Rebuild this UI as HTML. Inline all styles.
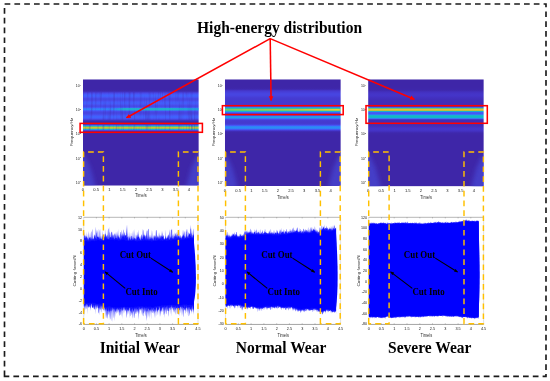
<!DOCTYPE html>
<html><head><meta charset="utf-8"><title>Wear stages</title>
<style>html,body{margin:0;padding:0;background:#fff;}body{width:550px;height:381px;overflow:hidden;font-family:"Liberation Serif",serif;}svg{display:block;}</style>
</head><body>
<svg width="550" height="381" viewBox="0 0 550 381">
<defs>
<linearGradient id="sg0" x1="0" y1="0" x2="0" y2="1">
<stop offset="0.0000" stop-color="#3e26a8"/>
<stop offset="0.0047" stop-color="#3e26a8"/>
<stop offset="0.0093" stop-color="#3e26a8"/>
<stop offset="0.0140" stop-color="#3e26a8"/>
<stop offset="0.0187" stop-color="#3e26a8"/>
<stop offset="0.0234" stop-color="#3e26a8"/>
<stop offset="0.0280" stop-color="#3e26a8"/>
<stop offset="0.0327" stop-color="#3e26a8"/>
<stop offset="0.0374" stop-color="#3e26a8"/>
<stop offset="0.0421" stop-color="#3e26a8"/>
<stop offset="0.0467" stop-color="#3e26a8"/>
<stop offset="0.0514" stop-color="#3e26a8"/>
<stop offset="0.0561" stop-color="#3e26a8"/>
<stop offset="0.0607" stop-color="#3e26a8"/>
<stop offset="0.0654" stop-color="#3e26a8"/>
<stop offset="0.0701" stop-color="#3e26a8"/>
<stop offset="0.0748" stop-color="#3e26a8"/>
<stop offset="0.0794" stop-color="#3e26a8"/>
<stop offset="0.0841" stop-color="#3e26a8"/>
<stop offset="0.0888" stop-color="#3e26a8"/>
<stop offset="0.0935" stop-color="#3e26a9"/>
<stop offset="0.0981" stop-color="#3e27a9"/>
<stop offset="0.1028" stop-color="#3e27aa"/>
<stop offset="0.1075" stop-color="#3f29ae"/>
<stop offset="0.1121" stop-color="#402cb5"/>
<stop offset="0.1168" stop-color="#4331c2"/>
<stop offset="0.1215" stop-color="#453bd1"/>
<stop offset="0.1262" stop-color="#4743df"/>
<stop offset="0.1308" stop-color="#474be9"/>
<stop offset="0.1355" stop-color="#4851f3"/>
<stop offset="0.1402" stop-color="#4557f7"/>
<stop offset="0.1449" stop-color="#425dfa"/>
<stop offset="0.1495" stop-color="#4060fc"/>
<stop offset="0.1542" stop-color="#4061fc"/>
<stop offset="0.1589" stop-color="#415ffb"/>
<stop offset="0.1636" stop-color="#435bf9"/>
<stop offset="0.1682" stop-color="#4656f6"/>
<stop offset="0.1729" stop-color="#4850f1"/>
<stop offset="0.1776" stop-color="#474ceb"/>
<stop offset="0.1822" stop-color="#4749e7"/>
<stop offset="0.1869" stop-color="#4748e6"/>
<stop offset="0.1916" stop-color="#4749e6"/>
<stop offset="0.1963" stop-color="#474be9"/>
<stop offset="0.2009" stop-color="#474eee"/>
<stop offset="0.2056" stop-color="#4753f5"/>
<stop offset="0.2103" stop-color="#4558f7"/>
<stop offset="0.2150" stop-color="#435cf9"/>
<stop offset="0.2196" stop-color="#415efb"/>
<stop offset="0.2243" stop-color="#425efa"/>
<stop offset="0.2290" stop-color="#435bf9"/>
<stop offset="0.2336" stop-color="#4557f7"/>
<stop offset="0.2383" stop-color="#4852f4"/>
<stop offset="0.2430" stop-color="#474eed"/>
<stop offset="0.2477" stop-color="#474be9"/>
<stop offset="0.2523" stop-color="#474ae8"/>
<stop offset="0.2570" stop-color="#474cec"/>
<stop offset="0.2617" stop-color="#4753f5"/>
<stop offset="0.2664" stop-color="#425efa"/>
<stop offset="0.2710" stop-color="#3970fb"/>
<stop offset="0.2757" stop-color="#3082f8"/>
<stop offset="0.2804" stop-color="#2d87f7"/>
<stop offset="0.2850" stop-color="#337cf9"/>
<stop offset="0.2897" stop-color="#3d66fd"/>
<stop offset="0.2944" stop-color="#4459f8"/>
<stop offset="0.2991" stop-color="#474fef"/>
<stop offset="0.3037" stop-color="#4749e7"/>
<stop offset="0.3084" stop-color="#4746e3"/>
<stop offset="0.3131" stop-color="#4746e2"/>
<stop offset="0.3178" stop-color="#4746e3"/>
<stop offset="0.3224" stop-color="#4748e6"/>
<stop offset="0.3271" stop-color="#474cea"/>
<stop offset="0.3318" stop-color="#4850f1"/>
<stop offset="0.3364" stop-color="#4656f6"/>
<stop offset="0.3411" stop-color="#435cf9"/>
<stop offset="0.3458" stop-color="#4061fc"/>
<stop offset="0.3505" stop-color="#3f63fd"/>
<stop offset="0.3551" stop-color="#3f63fd"/>
<stop offset="0.3598" stop-color="#4160fb"/>
<stop offset="0.3645" stop-color="#4459f8"/>
<stop offset="0.3692" stop-color="#4851f3"/>
<stop offset="0.3738" stop-color="#4748e5"/>
<stop offset="0.3785" stop-color="#463cd4"/>
<stop offset="0.3832" stop-color="#4332c3"/>
<stop offset="0.3879" stop-color="#402cb5"/>
<stop offset="0.3925" stop-color="#3f29ae"/>
<stop offset="0.3972" stop-color="#3e27aa"/>
<stop offset="0.4019" stop-color="#3e27a9"/>
<stop offset="0.4065" stop-color="#3e27a9"/>
<stop offset="0.4112" stop-color="#3e27aa"/>
<stop offset="0.4159" stop-color="#3f29ae"/>
<stop offset="0.4206" stop-color="#422ebb"/>
<stop offset="0.4252" stop-color="#463ed7"/>
<stop offset="0.4299" stop-color="#4060fc"/>
<stop offset="0.4346" stop-color="#229fe5"/>
<stop offset="0.4393" stop-color="#1dc1af"/>
<stop offset="0.4439" stop-color="#80ca5b"/>
<stop offset="0.4486" stop-color="#cac133"/>
<stop offset="0.4533" stop-color="#d3bf31"/>
<stop offset="0.4579" stop-color="#bac436"/>
<stop offset="0.4626" stop-color="#4fcb82"/>
<stop offset="0.4673" stop-color="#12b4d1"/>
<stop offset="0.4720" stop-color="#2c8cf3"/>
<stop offset="0.4766" stop-color="#4850f1"/>
<stop offset="0.4813" stop-color="#4436ca"/>
<stop offset="0.4860" stop-color="#402bb4"/>
<stop offset="0.4907" stop-color="#3e28ac"/>
<stop offset="0.4953" stop-color="#3e27a9"/>
<stop offset="0.5000" stop-color="#3e26a8"/>
<stop offset="0.5047" stop-color="#3e26a8"/>
<stop offset="0.5093" stop-color="#3e26a8"/>
<stop offset="0.5140" stop-color="#3e26a8"/>
<stop offset="0.5187" stop-color="#3e26a8"/>
<stop offset="0.5234" stop-color="#3e26a8"/>
<stop offset="0.5280" stop-color="#3e26a8"/>
<stop offset="0.5327" stop-color="#3e26a8"/>
<stop offset="0.5374" stop-color="#3e26a8"/>
<stop offset="0.5421" stop-color="#3e26a8"/>
<stop offset="0.5467" stop-color="#3e26a8"/>
<stop offset="0.5514" stop-color="#3e26a8"/>
<stop offset="0.5561" stop-color="#3e26a8"/>
<stop offset="0.5607" stop-color="#3e26a8"/>
<stop offset="0.5654" stop-color="#3e26a8"/>
<stop offset="0.5701" stop-color="#3e26a8"/>
<stop offset="0.5748" stop-color="#3e26a8"/>
<stop offset="0.5794" stop-color="#3e26a8"/>
<stop offset="0.5841" stop-color="#3e26a8"/>
<stop offset="0.5888" stop-color="#3e26a8"/>
<stop offset="0.5935" stop-color="#3e26a8"/>
<stop offset="0.5981" stop-color="#3e26a8"/>
<stop offset="0.6028" stop-color="#3e26a8"/>
<stop offset="0.6075" stop-color="#3e26a8"/>
<stop offset="0.6121" stop-color="#3e26a8"/>
<stop offset="0.6168" stop-color="#3e26a8"/>
<stop offset="0.6215" stop-color="#3e26a8"/>
<stop offset="0.6262" stop-color="#3e26a8"/>
<stop offset="0.6308" stop-color="#3e26a8"/>
<stop offset="0.6355" stop-color="#3e26a8"/>
<stop offset="0.6402" stop-color="#3e26a8"/>
<stop offset="0.6449" stop-color="#3e26a8"/>
<stop offset="0.6495" stop-color="#3e26a8"/>
<stop offset="0.6542" stop-color="#3e26a8"/>
<stop offset="0.6589" stop-color="#3e26a8"/>
<stop offset="0.6636" stop-color="#3e26a8"/>
<stop offset="0.6682" stop-color="#3e26a8"/>
<stop offset="0.6729" stop-color="#3e26a8"/>
<stop offset="0.6776" stop-color="#3e26a8"/>
<stop offset="0.6822" stop-color="#3e26a8"/>
<stop offset="0.6869" stop-color="#3e26a8"/>
<stop offset="0.6916" stop-color="#3e26a8"/>
<stop offset="0.6963" stop-color="#3e26a8"/>
<stop offset="0.7009" stop-color="#3e26a8"/>
<stop offset="0.7056" stop-color="#3e26a8"/>
<stop offset="0.7103" stop-color="#3e26a8"/>
<stop offset="0.7150" stop-color="#3e26a8"/>
<stop offset="0.7196" stop-color="#3e26a8"/>
<stop offset="0.7243" stop-color="#3e26a8"/>
<stop offset="0.7290" stop-color="#3e26a8"/>
<stop offset="0.7336" stop-color="#3e26a8"/>
<stop offset="0.7383" stop-color="#3e26a8"/>
<stop offset="0.7430" stop-color="#3e26a8"/>
<stop offset="0.7477" stop-color="#3e26a8"/>
<stop offset="0.7523" stop-color="#3e26a8"/>
<stop offset="0.7570" stop-color="#3e26a8"/>
<stop offset="0.7617" stop-color="#3e26a8"/>
<stop offset="0.7664" stop-color="#3e26a8"/>
<stop offset="0.7710" stop-color="#3e26a8"/>
<stop offset="0.7757" stop-color="#3e26a8"/>
<stop offset="0.7804" stop-color="#3e26a8"/>
<stop offset="0.7850" stop-color="#3e26a8"/>
<stop offset="0.7897" stop-color="#3e26a8"/>
<stop offset="0.7944" stop-color="#3e26a8"/>
<stop offset="0.7991" stop-color="#3e26a8"/>
<stop offset="0.8037" stop-color="#3e26a8"/>
<stop offset="0.8084" stop-color="#3e26a8"/>
<stop offset="0.8131" stop-color="#3e26a8"/>
<stop offset="0.8178" stop-color="#3e26a8"/>
<stop offset="0.8224" stop-color="#3e26a8"/>
<stop offset="0.8271" stop-color="#3e26a8"/>
<stop offset="0.8318" stop-color="#3e26a8"/>
<stop offset="0.8364" stop-color="#3e26a8"/>
<stop offset="0.8411" stop-color="#3e26a8"/>
<stop offset="0.8458" stop-color="#3e26a8"/>
<stop offset="0.8505" stop-color="#3e26a8"/>
<stop offset="0.8551" stop-color="#3e26a8"/>
<stop offset="0.8598" stop-color="#3e26a8"/>
<stop offset="0.8645" stop-color="#3e26a8"/>
<stop offset="0.8692" stop-color="#3e26a8"/>
<stop offset="0.8738" stop-color="#3e26a8"/>
<stop offset="0.8785" stop-color="#3e26a8"/>
<stop offset="0.8832" stop-color="#3e26a8"/>
<stop offset="0.8879" stop-color="#3e26a8"/>
<stop offset="0.8925" stop-color="#3e26a8"/>
<stop offset="0.8972" stop-color="#3e26a8"/>
<stop offset="0.9019" stop-color="#3e26a8"/>
<stop offset="0.9065" stop-color="#3e26a8"/>
<stop offset="0.9112" stop-color="#3e26a8"/>
<stop offset="0.9159" stop-color="#3e26a8"/>
<stop offset="0.9206" stop-color="#3e26a8"/>
<stop offset="0.9252" stop-color="#3e26a8"/>
<stop offset="0.9299" stop-color="#3e26a8"/>
<stop offset="0.9346" stop-color="#3e26a8"/>
<stop offset="0.9393" stop-color="#3e26a8"/>
<stop offset="0.9439" stop-color="#3e26a8"/>
<stop offset="0.9486" stop-color="#3e26a8"/>
<stop offset="0.9533" stop-color="#3e26a8"/>
<stop offset="0.9579" stop-color="#3e26a8"/>
<stop offset="0.9626" stop-color="#3e26a8"/>
<stop offset="0.9673" stop-color="#3e26a8"/>
<stop offset="0.9720" stop-color="#3e26a8"/>
<stop offset="0.9766" stop-color="#3e26a8"/>
<stop offset="0.9813" stop-color="#3e26a8"/>
<stop offset="0.9860" stop-color="#3e26a8"/>
<stop offset="0.9907" stop-color="#3e26a8"/>
<stop offset="0.9953" stop-color="#3e26a8"/>
<stop offset="1.0000" stop-color="#3e26a8"/>
</linearGradient>
<linearGradient id="sg1" x1="0" y1="0" x2="0" y2="1">
<stop offset="0.0000" stop-color="#3e26a8"/>
<stop offset="0.0047" stop-color="#3e26a8"/>
<stop offset="0.0093" stop-color="#3e26a8"/>
<stop offset="0.0140" stop-color="#3e26a8"/>
<stop offset="0.0187" stop-color="#3e26a8"/>
<stop offset="0.0234" stop-color="#3e26a8"/>
<stop offset="0.0280" stop-color="#3e26a8"/>
<stop offset="0.0327" stop-color="#3e26a8"/>
<stop offset="0.0374" stop-color="#3e26a8"/>
<stop offset="0.0421" stop-color="#3e26a8"/>
<stop offset="0.0467" stop-color="#3e26a8"/>
<stop offset="0.0514" stop-color="#3e26a8"/>
<stop offset="0.0561" stop-color="#3e26a8"/>
<stop offset="0.0607" stop-color="#3e26a8"/>
<stop offset="0.0654" stop-color="#3e26a8"/>
<stop offset="0.0701" stop-color="#3e26a8"/>
<stop offset="0.0748" stop-color="#3e26a9"/>
<stop offset="0.0794" stop-color="#3e27a9"/>
<stop offset="0.0841" stop-color="#3e27aa"/>
<stop offset="0.0888" stop-color="#3f28ac"/>
<stop offset="0.0935" stop-color="#402ab1"/>
<stop offset="0.0981" stop-color="#412eba"/>
<stop offset="0.1028" stop-color="#4433c5"/>
<stop offset="0.1075" stop-color="#4538cd"/>
<stop offset="0.1121" stop-color="#463bd2"/>
<stop offset="0.1168" stop-color="#463dd6"/>
<stop offset="0.1215" stop-color="#473fd9"/>
<stop offset="0.1262" stop-color="#4741dc"/>
<stop offset="0.1308" stop-color="#4743de"/>
<stop offset="0.1355" stop-color="#4745e0"/>
<stop offset="0.1402" stop-color="#4745e1"/>
<stop offset="0.1449" stop-color="#4745e1"/>
<stop offset="0.1495" stop-color="#4744e0"/>
<stop offset="0.1542" stop-color="#4743de"/>
<stop offset="0.1589" stop-color="#4741db"/>
<stop offset="0.1636" stop-color="#473fd9"/>
<stop offset="0.1682" stop-color="#463ed6"/>
<stop offset="0.1729" stop-color="#463cd4"/>
<stop offset="0.1776" stop-color="#463bd2"/>
<stop offset="0.1822" stop-color="#453bd1"/>
<stop offset="0.1869" stop-color="#453ad0"/>
<stop offset="0.1916" stop-color="#453ad0"/>
<stop offset="0.1963" stop-color="#453ad0"/>
<stop offset="0.2009" stop-color="#4539cf"/>
<stop offset="0.2056" stop-color="#4539cf"/>
<stop offset="0.2103" stop-color="#4539cf"/>
<stop offset="0.2150" stop-color="#4539cf"/>
<stop offset="0.2196" stop-color="#4539cf"/>
<stop offset="0.2243" stop-color="#4539cf"/>
<stop offset="0.2290" stop-color="#4539cf"/>
<stop offset="0.2336" stop-color="#4539cf"/>
<stop offset="0.2383" stop-color="#453ad0"/>
<stop offset="0.2430" stop-color="#463bd2"/>
<stop offset="0.2477" stop-color="#463ed7"/>
<stop offset="0.2523" stop-color="#4747e4"/>
<stop offset="0.2570" stop-color="#4458f8"/>
<stop offset="0.2617" stop-color="#2f84f8"/>
<stop offset="0.2664" stop-color="#1da8e0"/>
<stop offset="0.2710" stop-color="#12bdbc"/>
<stop offset="0.2757" stop-color="#46ca8a"/>
<stop offset="0.2804" stop-color="#6ecb69"/>
<stop offset="0.2850" stop-color="#79ca60"/>
<stop offset="0.2897" stop-color="#5bcd79"/>
<stop offset="0.2944" stop-color="#33c79a"/>
<stop offset="0.2991" stop-color="#12b3d3"/>
<stop offset="0.3037" stop-color="#2798ea"/>
<stop offset="0.3084" stop-color="#3b6cfc"/>
<stop offset="0.3131" stop-color="#4850f1"/>
<stop offset="0.3178" stop-color="#4743de"/>
<stop offset="0.3224" stop-color="#463ed6"/>
<stop offset="0.3271" stop-color="#463ed6"/>
<stop offset="0.3318" stop-color="#4743de"/>
<stop offset="0.3364" stop-color="#474eef"/>
<stop offset="0.3411" stop-color="#4061fc"/>
<stop offset="0.3458" stop-color="#2d88f6"/>
<stop offset="0.3505" stop-color="#259ae9"/>
<stop offset="0.3551" stop-color="#20a2e4"/>
<stop offset="0.3598" stop-color="#259ae9"/>
<stop offset="0.3645" stop-color="#2d88f6"/>
<stop offset="0.3692" stop-color="#4061fc"/>
<stop offset="0.3738" stop-color="#474eef"/>
<stop offset="0.3785" stop-color="#4742dd"/>
<stop offset="0.3832" stop-color="#463dd5"/>
<stop offset="0.3879" stop-color="#453ad1"/>
<stop offset="0.3925" stop-color="#453ad0"/>
<stop offset="0.3972" stop-color="#4539cf"/>
<stop offset="0.4019" stop-color="#4539cf"/>
<stop offset="0.4065" stop-color="#4539cf"/>
<stop offset="0.4112" stop-color="#453ad0"/>
<stop offset="0.4159" stop-color="#463bd2"/>
<stop offset="0.4206" stop-color="#463fd8"/>
<stop offset="0.4252" stop-color="#4746e3"/>
<stop offset="0.4299" stop-color="#4852f4"/>
<stop offset="0.4346" stop-color="#3f62fc"/>
<stop offset="0.4393" stop-color="#337bf9"/>
<stop offset="0.4439" stop-color="#2c8af5"/>
<stop offset="0.4486" stop-color="#2b8df2"/>
<stop offset="0.4533" stop-color="#2b8df2"/>
<stop offset="0.4579" stop-color="#2d89f6"/>
<stop offset="0.4626" stop-color="#3676fa"/>
<stop offset="0.4673" stop-color="#425efa"/>
<stop offset="0.4720" stop-color="#474ded"/>
<stop offset="0.4766" stop-color="#473fd9"/>
<stop offset="0.4813" stop-color="#4434c8"/>
<stop offset="0.4860" stop-color="#412db9"/>
<stop offset="0.4907" stop-color="#3f29b0"/>
<stop offset="0.4953" stop-color="#3e28ab"/>
<stop offset="0.5000" stop-color="#3e27a9"/>
<stop offset="0.5047" stop-color="#3e27a9"/>
<stop offset="0.5093" stop-color="#3e26a9"/>
<stop offset="0.5140" stop-color="#3e26a8"/>
<stop offset="0.5187" stop-color="#3e26a8"/>
<stop offset="0.5234" stop-color="#3e26a8"/>
<stop offset="0.5280" stop-color="#3e26a8"/>
<stop offset="0.5327" stop-color="#3e26a8"/>
<stop offset="0.5374" stop-color="#3e26a8"/>
<stop offset="0.5421" stop-color="#3e26a8"/>
<stop offset="0.5467" stop-color="#3e26a8"/>
<stop offset="0.5514" stop-color="#3e26a8"/>
<stop offset="0.5561" stop-color="#3e26a8"/>
<stop offset="0.5607" stop-color="#3e26a8"/>
<stop offset="0.5654" stop-color="#3e26a8"/>
<stop offset="0.5701" stop-color="#3e26a8"/>
<stop offset="0.5748" stop-color="#3e26a8"/>
<stop offset="0.5794" stop-color="#3e26a8"/>
<stop offset="0.5841" stop-color="#3e26a8"/>
<stop offset="0.5888" stop-color="#3e26a8"/>
<stop offset="0.5935" stop-color="#3e26a8"/>
<stop offset="0.5981" stop-color="#3e26a8"/>
<stop offset="0.6028" stop-color="#3e26a8"/>
<stop offset="0.6075" stop-color="#3e26a8"/>
<stop offset="0.6121" stop-color="#3e26a8"/>
<stop offset="0.6168" stop-color="#3e26a8"/>
<stop offset="0.6215" stop-color="#3e26a8"/>
<stop offset="0.6262" stop-color="#3e26a8"/>
<stop offset="0.6308" stop-color="#3e26a8"/>
<stop offset="0.6355" stop-color="#3e26a8"/>
<stop offset="0.6402" stop-color="#3e26a8"/>
<stop offset="0.6449" stop-color="#3e26a8"/>
<stop offset="0.6495" stop-color="#3e26a8"/>
<stop offset="0.6542" stop-color="#3e26a8"/>
<stop offset="0.6589" stop-color="#3e26a8"/>
<stop offset="0.6636" stop-color="#3e26a8"/>
<stop offset="0.6682" stop-color="#3e26a8"/>
<stop offset="0.6729" stop-color="#3e26a8"/>
<stop offset="0.6776" stop-color="#3e26a8"/>
<stop offset="0.6822" stop-color="#3e26a8"/>
<stop offset="0.6869" stop-color="#3e26a8"/>
<stop offset="0.6916" stop-color="#3e26a8"/>
<stop offset="0.6963" stop-color="#3e26a8"/>
<stop offset="0.7009" stop-color="#3e26a8"/>
<stop offset="0.7056" stop-color="#3e26a8"/>
<stop offset="0.7103" stop-color="#3e26a8"/>
<stop offset="0.7150" stop-color="#3e26a8"/>
<stop offset="0.7196" stop-color="#3e26a8"/>
<stop offset="0.7243" stop-color="#3e26a8"/>
<stop offset="0.7290" stop-color="#3e26a8"/>
<stop offset="0.7336" stop-color="#3e26a8"/>
<stop offset="0.7383" stop-color="#3e26a8"/>
<stop offset="0.7430" stop-color="#3e26a8"/>
<stop offset="0.7477" stop-color="#3e26a8"/>
<stop offset="0.7523" stop-color="#3e26a8"/>
<stop offset="0.7570" stop-color="#3e26a8"/>
<stop offset="0.7617" stop-color="#3e26a8"/>
<stop offset="0.7664" stop-color="#3e26a8"/>
<stop offset="0.7710" stop-color="#3e26a8"/>
<stop offset="0.7757" stop-color="#3e26a8"/>
<stop offset="0.7804" stop-color="#3e26a8"/>
<stop offset="0.7850" stop-color="#3e26a8"/>
<stop offset="0.7897" stop-color="#3e26a8"/>
<stop offset="0.7944" stop-color="#3e26a8"/>
<stop offset="0.7991" stop-color="#3e26a8"/>
<stop offset="0.8037" stop-color="#3e26a8"/>
<stop offset="0.8084" stop-color="#3e26a8"/>
<stop offset="0.8131" stop-color="#3e26a8"/>
<stop offset="0.8178" stop-color="#3e26a8"/>
<stop offset="0.8224" stop-color="#3e26a8"/>
<stop offset="0.8271" stop-color="#3e26a8"/>
<stop offset="0.8318" stop-color="#3e26a8"/>
<stop offset="0.8364" stop-color="#3e26a8"/>
<stop offset="0.8411" stop-color="#3e26a8"/>
<stop offset="0.8458" stop-color="#3e26a8"/>
<stop offset="0.8505" stop-color="#3e26a8"/>
<stop offset="0.8551" stop-color="#3e26a8"/>
<stop offset="0.8598" stop-color="#3e26a8"/>
<stop offset="0.8645" stop-color="#3e26a8"/>
<stop offset="0.8692" stop-color="#3e26a8"/>
<stop offset="0.8738" stop-color="#3e26a8"/>
<stop offset="0.8785" stop-color="#3e26a8"/>
<stop offset="0.8832" stop-color="#3e26a8"/>
<stop offset="0.8879" stop-color="#3e26a8"/>
<stop offset="0.8925" stop-color="#3e26a8"/>
<stop offset="0.8972" stop-color="#3e26a8"/>
<stop offset="0.9019" stop-color="#3e26a8"/>
<stop offset="0.9065" stop-color="#3e26a8"/>
<stop offset="0.9112" stop-color="#3e26a8"/>
<stop offset="0.9159" stop-color="#3e26a8"/>
<stop offset="0.9206" stop-color="#3e26a8"/>
<stop offset="0.9252" stop-color="#3e26a8"/>
<stop offset="0.9299" stop-color="#3e26a8"/>
<stop offset="0.9346" stop-color="#3e26a8"/>
<stop offset="0.9393" stop-color="#3e26a8"/>
<stop offset="0.9439" stop-color="#3e26a8"/>
<stop offset="0.9486" stop-color="#3e26a8"/>
<stop offset="0.9533" stop-color="#3e26a8"/>
<stop offset="0.9579" stop-color="#3e26a8"/>
<stop offset="0.9626" stop-color="#3e26a8"/>
<stop offset="0.9673" stop-color="#3e26a8"/>
<stop offset="0.9720" stop-color="#3e26a8"/>
<stop offset="0.9766" stop-color="#3e26a8"/>
<stop offset="0.9813" stop-color="#3e26a8"/>
<stop offset="0.9860" stop-color="#3e26a8"/>
<stop offset="0.9907" stop-color="#3e26a8"/>
<stop offset="0.9953" stop-color="#3e26a8"/>
<stop offset="1.0000" stop-color="#3e26a8"/>
</linearGradient>
<linearGradient id="sg2" x1="0" y1="0" x2="0" y2="1">
<stop offset="0.0000" stop-color="#3e26a8"/>
<stop offset="0.0047" stop-color="#3e26a8"/>
<stop offset="0.0093" stop-color="#3e26a8"/>
<stop offset="0.0140" stop-color="#3e26a8"/>
<stop offset="0.0187" stop-color="#3e26a8"/>
<stop offset="0.0234" stop-color="#3e26a8"/>
<stop offset="0.0280" stop-color="#3e26a8"/>
<stop offset="0.0327" stop-color="#3e26a8"/>
<stop offset="0.0374" stop-color="#3e26a8"/>
<stop offset="0.0421" stop-color="#3e26a8"/>
<stop offset="0.0467" stop-color="#3e26a8"/>
<stop offset="0.0514" stop-color="#3e26a8"/>
<stop offset="0.0561" stop-color="#3e26a8"/>
<stop offset="0.0607" stop-color="#3e26a8"/>
<stop offset="0.0654" stop-color="#3e26a8"/>
<stop offset="0.0701" stop-color="#3e26a8"/>
<stop offset="0.0748" stop-color="#3e26a9"/>
<stop offset="0.0794" stop-color="#3e26a9"/>
<stop offset="0.0841" stop-color="#3e27a9"/>
<stop offset="0.0888" stop-color="#3e27a9"/>
<stop offset="0.0935" stop-color="#3e27aa"/>
<stop offset="0.0981" stop-color="#3e28ac"/>
<stop offset="0.1028" stop-color="#3f29ae"/>
<stop offset="0.1075" stop-color="#402bb2"/>
<stop offset="0.1121" stop-color="#412db8"/>
<stop offset="0.1168" stop-color="#422fbc"/>
<stop offset="0.1215" stop-color="#4330c0"/>
<stop offset="0.1262" stop-color="#4331c3"/>
<stop offset="0.1308" stop-color="#4433c5"/>
<stop offset="0.1355" stop-color="#4434c6"/>
<stop offset="0.1402" stop-color="#4434c7"/>
<stop offset="0.1449" stop-color="#4435c8"/>
<stop offset="0.1495" stop-color="#4435c8"/>
<stop offset="0.1542" stop-color="#4434c7"/>
<stop offset="0.1589" stop-color="#4433c6"/>
<stop offset="0.1636" stop-color="#4432c4"/>
<stop offset="0.1682" stop-color="#4331c2"/>
<stop offset="0.1729" stop-color="#4330c0"/>
<stop offset="0.1776" stop-color="#4230be"/>
<stop offset="0.1822" stop-color="#422fbc"/>
<stop offset="0.1869" stop-color="#422ebb"/>
<stop offset="0.1916" stop-color="#412eb9"/>
<stop offset="0.1963" stop-color="#412db8"/>
<stop offset="0.2009" stop-color="#412db8"/>
<stop offset="0.2056" stop-color="#412db7"/>
<stop offset="0.2103" stop-color="#412db7"/>
<stop offset="0.2150" stop-color="#412cb7"/>
<stop offset="0.2196" stop-color="#412cb7"/>
<stop offset="0.2243" stop-color="#412cb7"/>
<stop offset="0.2290" stop-color="#412cb7"/>
<stop offset="0.2336" stop-color="#412cb7"/>
<stop offset="0.2383" stop-color="#412cb7"/>
<stop offset="0.2430" stop-color="#412cb7"/>
<stop offset="0.2477" stop-color="#412cb7"/>
<stop offset="0.2523" stop-color="#422eba"/>
<stop offset="0.2570" stop-color="#4436ca"/>
<stop offset="0.2617" stop-color="#4655f6"/>
<stop offset="0.2664" stop-color="#229fe6"/>
<stop offset="0.2710" stop-color="#36c898"/>
<stop offset="0.2757" stop-color="#bfc335"/>
<stop offset="0.2804" stop-color="#e7be30"/>
<stop offset="0.2850" stop-color="#ebbf31"/>
<stop offset="0.2897" stop-color="#e2bd2f"/>
<stop offset="0.2944" stop-color="#89c954"/>
<stop offset="0.2991" stop-color="#12bbc0"/>
<stop offset="0.3037" stop-color="#2992ee"/>
<stop offset="0.3084" stop-color="#4061fc"/>
<stop offset="0.3131" stop-color="#4557f7"/>
<stop offset="0.3178" stop-color="#4656f6"/>
<stop offset="0.3224" stop-color="#4459f8"/>
<stop offset="0.3271" stop-color="#3d66fd"/>
<stop offset="0.3318" stop-color="#2a8ff1"/>
<stop offset="0.3364" stop-color="#1aabdd"/>
<stop offset="0.3411" stop-color="#12b6cc"/>
<stop offset="0.3458" stop-color="#12bac1"/>
<stop offset="0.3505" stop-color="#12bac2"/>
<stop offset="0.3551" stop-color="#12b7c9"/>
<stop offset="0.3598" stop-color="#16aeda"/>
<stop offset="0.3645" stop-color="#2991ef"/>
<stop offset="0.3692" stop-color="#445af8"/>
<stop offset="0.3738" stop-color="#463cd3"/>
<stop offset="0.3785" stop-color="#4230be"/>
<stop offset="0.3832" stop-color="#412db8"/>
<stop offset="0.3879" stop-color="#412cb7"/>
<stop offset="0.3925" stop-color="#412cb7"/>
<stop offset="0.3972" stop-color="#412cb7"/>
<stop offset="0.4019" stop-color="#412cb7"/>
<stop offset="0.4065" stop-color="#412cb7"/>
<stop offset="0.4112" stop-color="#412cb7"/>
<stop offset="0.4159" stop-color="#412db7"/>
<stop offset="0.4206" stop-color="#412db8"/>
<stop offset="0.4252" stop-color="#412db8"/>
<stop offset="0.4299" stop-color="#412eba"/>
<stop offset="0.4346" stop-color="#422ebb"/>
<stop offset="0.4393" stop-color="#422fbe"/>
<stop offset="0.4439" stop-color="#4330c0"/>
<stop offset="0.4486" stop-color="#4432c3"/>
<stop offset="0.4533" stop-color="#4433c6"/>
<stop offset="0.4579" stop-color="#4435c8"/>
<stop offset="0.4626" stop-color="#4436ca"/>
<stop offset="0.4673" stop-color="#4436ca"/>
<stop offset="0.4720" stop-color="#4435c9"/>
<stop offset="0.4766" stop-color="#4434c7"/>
<stop offset="0.4813" stop-color="#4432c4"/>
<stop offset="0.4860" stop-color="#4330bf"/>
<stop offset="0.4907" stop-color="#412eba"/>
<stop offset="0.4953" stop-color="#402bb3"/>
<stop offset="0.5000" stop-color="#3f29af"/>
<stop offset="0.5047" stop-color="#3e28ac"/>
<stop offset="0.5093" stop-color="#3e27aa"/>
<stop offset="0.5140" stop-color="#3e27a9"/>
<stop offset="0.5187" stop-color="#3e27a9"/>
<stop offset="0.5234" stop-color="#3e26a9"/>
<stop offset="0.5280" stop-color="#3e26a8"/>
<stop offset="0.5327" stop-color="#3e26a8"/>
<stop offset="0.5374" stop-color="#3e26a8"/>
<stop offset="0.5421" stop-color="#3e26a8"/>
<stop offset="0.5467" stop-color="#3e26a8"/>
<stop offset="0.5514" stop-color="#3e26a8"/>
<stop offset="0.5561" stop-color="#3e26a8"/>
<stop offset="0.5607" stop-color="#3e26a8"/>
<stop offset="0.5654" stop-color="#3e26a8"/>
<stop offset="0.5701" stop-color="#3e26a8"/>
<stop offset="0.5748" stop-color="#3e26a8"/>
<stop offset="0.5794" stop-color="#3e26a8"/>
<stop offset="0.5841" stop-color="#3e26a8"/>
<stop offset="0.5888" stop-color="#3e26a8"/>
<stop offset="0.5935" stop-color="#3e26a8"/>
<stop offset="0.5981" stop-color="#3e26a8"/>
<stop offset="0.6028" stop-color="#3e26a8"/>
<stop offset="0.6075" stop-color="#3e26a8"/>
<stop offset="0.6121" stop-color="#3e26a8"/>
<stop offset="0.6168" stop-color="#3e26a8"/>
<stop offset="0.6215" stop-color="#3e26a8"/>
<stop offset="0.6262" stop-color="#3e26a8"/>
<stop offset="0.6308" stop-color="#3e26a8"/>
<stop offset="0.6355" stop-color="#3e26a8"/>
<stop offset="0.6402" stop-color="#3e26a8"/>
<stop offset="0.6449" stop-color="#3e26a8"/>
<stop offset="0.6495" stop-color="#3e26a8"/>
<stop offset="0.6542" stop-color="#3e26a8"/>
<stop offset="0.6589" stop-color="#3e26a8"/>
<stop offset="0.6636" stop-color="#3e26a8"/>
<stop offset="0.6682" stop-color="#3e26a8"/>
<stop offset="0.6729" stop-color="#3e26a8"/>
<stop offset="0.6776" stop-color="#3e26a8"/>
<stop offset="0.6822" stop-color="#3e26a8"/>
<stop offset="0.6869" stop-color="#3e26a8"/>
<stop offset="0.6916" stop-color="#3e26a8"/>
<stop offset="0.6963" stop-color="#3e26a8"/>
<stop offset="0.7009" stop-color="#3e26a8"/>
<stop offset="0.7056" stop-color="#3e26a8"/>
<stop offset="0.7103" stop-color="#3e26a8"/>
<stop offset="0.7150" stop-color="#3e26a8"/>
<stop offset="0.7196" stop-color="#3e26a8"/>
<stop offset="0.7243" stop-color="#3e26a8"/>
<stop offset="0.7290" stop-color="#3e26a8"/>
<stop offset="0.7336" stop-color="#3e26a8"/>
<stop offset="0.7383" stop-color="#3e26a8"/>
<stop offset="0.7430" stop-color="#3e26a8"/>
<stop offset="0.7477" stop-color="#3e26a8"/>
<stop offset="0.7523" stop-color="#3e26a8"/>
<stop offset="0.7570" stop-color="#3e26a8"/>
<stop offset="0.7617" stop-color="#3e26a8"/>
<stop offset="0.7664" stop-color="#3e26a8"/>
<stop offset="0.7710" stop-color="#3e26a8"/>
<stop offset="0.7757" stop-color="#3e26a8"/>
<stop offset="0.7804" stop-color="#3e26a8"/>
<stop offset="0.7850" stop-color="#3e26a8"/>
<stop offset="0.7897" stop-color="#3e26a8"/>
<stop offset="0.7944" stop-color="#3e26a8"/>
<stop offset="0.7991" stop-color="#3e26a8"/>
<stop offset="0.8037" stop-color="#3e26a8"/>
<stop offset="0.8084" stop-color="#3e26a8"/>
<stop offset="0.8131" stop-color="#3e26a8"/>
<stop offset="0.8178" stop-color="#3e26a8"/>
<stop offset="0.8224" stop-color="#3e26a8"/>
<stop offset="0.8271" stop-color="#3e26a8"/>
<stop offset="0.8318" stop-color="#3e26a8"/>
<stop offset="0.8364" stop-color="#3e26a8"/>
<stop offset="0.8411" stop-color="#3e26a8"/>
<stop offset="0.8458" stop-color="#3e26a8"/>
<stop offset="0.8505" stop-color="#3e26a8"/>
<stop offset="0.8551" stop-color="#3e26a8"/>
<stop offset="0.8598" stop-color="#3e26a8"/>
<stop offset="0.8645" stop-color="#3e26a8"/>
<stop offset="0.8692" stop-color="#3e26a8"/>
<stop offset="0.8738" stop-color="#3e26a8"/>
<stop offset="0.8785" stop-color="#3e26a8"/>
<stop offset="0.8832" stop-color="#3e26a8"/>
<stop offset="0.8879" stop-color="#3e26a8"/>
<stop offset="0.8925" stop-color="#3e26a8"/>
<stop offset="0.8972" stop-color="#3e26a8"/>
<stop offset="0.9019" stop-color="#3e26a8"/>
<stop offset="0.9065" stop-color="#3e26a8"/>
<stop offset="0.9112" stop-color="#3e26a8"/>
<stop offset="0.9159" stop-color="#3e26a8"/>
<stop offset="0.9206" stop-color="#3e26a8"/>
<stop offset="0.9252" stop-color="#3e26a8"/>
<stop offset="0.9299" stop-color="#3e26a8"/>
<stop offset="0.9346" stop-color="#3e26a8"/>
<stop offset="0.9393" stop-color="#3e26a8"/>
<stop offset="0.9439" stop-color="#3e26a8"/>
<stop offset="0.9486" stop-color="#3e26a8"/>
<stop offset="0.9533" stop-color="#3e26a8"/>
<stop offset="0.9579" stop-color="#3e26a8"/>
<stop offset="0.9626" stop-color="#3e26a8"/>
<stop offset="0.9673" stop-color="#3e26a8"/>
<stop offset="0.9720" stop-color="#3e26a8"/>
<stop offset="0.9766" stop-color="#3e26a8"/>
<stop offset="0.9813" stop-color="#3e26a8"/>
<stop offset="0.9860" stop-color="#3e26a8"/>
<stop offset="0.9907" stop-color="#3e26a8"/>
<stop offset="0.9953" stop-color="#3e26a8"/>
<stop offset="1.0000" stop-color="#3e26a8"/>
</linearGradient>
<linearGradient id="hm0" x1="0" y1="0" x2="1" y2="0"><stop offset="0" stop-color="#12b8c8" stop-opacity="0"/><stop offset="0.25" stop-color="#12b8c8" stop-opacity="0.05"/><stop offset="0.36" stop-color="#18c0c0" stop-opacity="0.7"/><stop offset="0.75" stop-color="#18c0c0" stop-opacity="0.75"/><stop offset="1" stop-color="#12b8c8" stop-opacity="0.4"/></linearGradient>
<linearGradient id="hm1" x1="0" y1="0" x2="1" y2="0"><stop offset="0" stop-color="#e8c828" stop-opacity="0"/><stop offset="0.2" stop-color="#e8c828" stop-opacity="0.25"/><stop offset="0.55" stop-color="#e8c828" stop-opacity="0.45"/><stop offset="0.8" stop-color="#f4cc28" stop-opacity="0.8"/><stop offset="0.985" stop-color="#f8d428" stop-opacity="0.9"/><stop offset="1" stop-color="#f8d428" stop-opacity="0"/></linearGradient>
<radialGradient id="glowL" cx="0" cy="0.35" r="1" gradientTransform="scale(1 1)"><stop offset="0" stop-color="#4660e8" stop-opacity="0.5"/><stop offset="0.5" stop-color="#4048d0" stop-opacity="0.2"/><stop offset="1" stop-color="#3e26a8" stop-opacity="0"/></radialGradient>
<radialGradient id="glowR" cx="1" cy="0.35" r="1"><stop offset="0" stop-color="#4660e8" stop-opacity="0.5"/><stop offset="0.5" stop-color="#4048d0" stop-opacity="0.2"/><stop offset="1" stop-color="#3e26a8" stop-opacity="0"/></radialGradient>
<marker id="ar" markerWidth="6" markerHeight="6" refX="4.2" refY="3" orient="auto" markerUnits="userSpaceOnUse"><path d="M0,0.7 L4.8,3 L0,5.3 Z" fill="#ff0000"/></marker>
<marker id="ab" markerWidth="5" markerHeight="4" refX="3.3" refY="2" orient="auto" markerUnits="userSpaceOnUse"><path d="M0,0.45 L3.9,2 L0,3.55 Z" fill="#000"/></marker>
<filter id="bl" x="-5%" y="-5%" width="110%" height="110%"><feGaussianBlur stdDeviation="0.35"/></filter>
<filter id="tx" x="0" y="0" width="100%" height="100%" color-interpolation-filters="sRGB"><feTurbulence type="fractalNoise" baseFrequency="0.45 0.03" numOctaves="2" seed="5" result="n"/><feColorMatrix in="n" type="matrix" values="0 0 0 0 0.243  0 0 0 0 0.15  0 0 0 0 0.66  1.0 0 0 0 -0.46"/></filter>
<filter id="gb" x="-50%" y="-50%" width="200%" height="200%"><feGaussianBlur stdDeviation="2.2"/></filter>
</defs>
<rect width="550" height="381" fill="#fff"/>
<path d="M4.5,376.3 V4 H546 V376.3 Z" fill="none" stroke="#1a1a1a" stroke-width="1.65" stroke-dasharray="5.7 4.1"/>
<svg x="83.0" y="79.3" width="115.8" height="106.2" overflow="hidden"><rect x="0" y="0" width="115.8" height="107.0" fill="url(#sg0)"/><g filter="url(#gb)" fill="#4a58e8" fill-opacity="0.5"><polygon points="-3,74.7 2,76.7 7.5,88.7 13,108.7 -3,110.7"/><polygon points="118.8,74.7 113.8,76.7 108.3,88.7 102.8,108.7 118.8,110.7"/></g></svg>
<rect x="83.0" y="92.5" width="115.8" height="27.0" filter="url(#tx)"/>
<rect x="83.0" y="125.8" width="115.8" height="4.0" filter="url(#tx)"/>
<rect x="83.0" y="107.9" width="115.8" height="2.6" fill="url(#hm0)"/>
<text x="83.0" y="191.3" font-size="4.1" text-anchor="middle" fill="#161616" font-family="Liberation Sans, sans-serif">0</text>
<text x="96.2" y="191.3" font-size="4.1" text-anchor="middle" fill="#161616" font-family="Liberation Sans, sans-serif">0.5</text>
<text x="109.5" y="191.3" font-size="4.1" text-anchor="middle" fill="#161616" font-family="Liberation Sans, sans-serif">1</text>
<text x="122.7" y="191.3" font-size="4.1" text-anchor="middle" fill="#161616" font-family="Liberation Sans, sans-serif">1.5</text>
<text x="135.9" y="191.3" font-size="4.1" text-anchor="middle" fill="#161616" font-family="Liberation Sans, sans-serif">2</text>
<text x="149.1" y="191.3" font-size="4.1" text-anchor="middle" fill="#161616" font-family="Liberation Sans, sans-serif">2.5</text>
<text x="162.3" y="191.3" font-size="4.1" text-anchor="middle" fill="#161616" font-family="Liberation Sans, sans-serif">3</text>
<text x="175.6" y="191.3" font-size="4.1" text-anchor="middle" fill="#161616" font-family="Liberation Sans, sans-serif">3.5</text>
<text x="188.8" y="191.3" font-size="4.1" text-anchor="middle" fill="#161616" font-family="Liberation Sans, sans-serif">4</text>
<text transform="translate(141.0,197.3) scale(0.8,1)" font-size="4.9" text-anchor="middle" fill="#2a2a2a" font-family="Liberation Sans, sans-serif">Time/s</text>
<text x="81.0" y="87.1" font-size="3.5" text-anchor="end" fill="#222" font-family="Liberation Sans, sans-serif">10<tspan dy="-1.4" font-size="2.3">4</tspan></text>
<text x="81.0" y="111.2" font-size="3.5" text-anchor="end" fill="#222" font-family="Liberation Sans, sans-serif">10<tspan dy="-1.4" font-size="2.3">3</tspan></text>
<text x="81.0" y="135.4" font-size="3.5" text-anchor="end" fill="#222" font-family="Liberation Sans, sans-serif">10<tspan dy="-1.4" font-size="2.3">2</tspan></text>
<text x="81.0" y="159.6" font-size="3.5" text-anchor="end" fill="#222" font-family="Liberation Sans, sans-serif">10<tspan dy="-1.4" font-size="2.3">1</tspan></text>
<text x="81.0" y="183.5" font-size="3.5" text-anchor="end" fill="#222" font-family="Liberation Sans, sans-serif">10<tspan dy="-1.4" font-size="2.3">0</tspan></text>
<text transform="translate(73.2,132) rotate(-90) scale(1.22,1)" font-size="3.8" text-anchor="middle" fill="#222" font-family="Liberation Sans, sans-serif">Frequency/Hz</text>
<svg x="224.9" y="79.3" width="115.9" height="106.8" overflow="hidden"><rect x="0" y="0" width="115.9" height="107.0" fill="url(#sg1)"/><g filter="url(#gb)" fill="#4a58e8" fill-opacity="0.5"><polygon points="-3,74.7 2,76.7 7.5,88.7 13,108.7 -3,110.7"/><polygon points="118.9,74.7 113.9,76.7 108.4,88.7 102.9,108.7 118.9,110.7"/></g></svg>
<rect x="224.9" y="108.9" width="115.9" height="1.7" fill="url(#hm1)"/>
<text x="224.9" y="192.4" font-size="4.1" text-anchor="middle" fill="#161616" font-family="Liberation Sans, sans-serif">0</text>
<text x="238.1" y="192.4" font-size="4.1" text-anchor="middle" fill="#161616" font-family="Liberation Sans, sans-serif">0.5</text>
<text x="251.3" y="192.4" font-size="4.1" text-anchor="middle" fill="#161616" font-family="Liberation Sans, sans-serif">1</text>
<text x="264.6" y="192.4" font-size="4.1" text-anchor="middle" fill="#161616" font-family="Liberation Sans, sans-serif">1.5</text>
<text x="277.8" y="192.4" font-size="4.1" text-anchor="middle" fill="#161616" font-family="Liberation Sans, sans-serif">2</text>
<text x="291.0" y="192.4" font-size="4.1" text-anchor="middle" fill="#161616" font-family="Liberation Sans, sans-serif">2.5</text>
<text x="304.2" y="192.4" font-size="4.1" text-anchor="middle" fill="#161616" font-family="Liberation Sans, sans-serif">3</text>
<text x="317.5" y="192.4" font-size="4.1" text-anchor="middle" fill="#161616" font-family="Liberation Sans, sans-serif">3.5</text>
<text x="330.7" y="192.4" font-size="4.1" text-anchor="middle" fill="#161616" font-family="Liberation Sans, sans-serif">4</text>
<text transform="translate(283.0,198.5) scale(0.8,1)" font-size="4.9" text-anchor="middle" fill="#2a2a2a" font-family="Liberation Sans, sans-serif">Time/s</text>
<text x="222.9" y="87.1" font-size="3.5" text-anchor="end" fill="#222" font-family="Liberation Sans, sans-serif">10<tspan dy="-1.4" font-size="2.3">4</tspan></text>
<text x="222.9" y="111.2" font-size="3.5" text-anchor="end" fill="#222" font-family="Liberation Sans, sans-serif">10<tspan dy="-1.4" font-size="2.3">3</tspan></text>
<text x="222.9" y="135.4" font-size="3.5" text-anchor="end" fill="#222" font-family="Liberation Sans, sans-serif">10<tspan dy="-1.4" font-size="2.3">2</tspan></text>
<text x="222.9" y="159.6" font-size="3.5" text-anchor="end" fill="#222" font-family="Liberation Sans, sans-serif">10<tspan dy="-1.4" font-size="2.3">1</tspan></text>
<text x="222.9" y="183.5" font-size="3.5" text-anchor="end" fill="#222" font-family="Liberation Sans, sans-serif">10<tspan dy="-1.4" font-size="2.3">0</tspan></text>
<text transform="translate(215.1,132) rotate(-90) scale(1.22,1)" font-size="3.8" text-anchor="middle" fill="#222" font-family="Liberation Sans, sans-serif">Frequency/Hz</text>
<svg x="368.1" y="79.3" width="115.7" height="107.1" overflow="hidden"><rect x="0" y="0" width="115.7" height="107.0" fill="url(#sg2)"/><g filter="url(#gb)" fill="#4a58e8" fill-opacity="0.5"><polygon points="-3,74.7 2,76.7 7.5,88.7 13,108.7 -3,110.7"/><polygon points="118.7,74.7 113.7,76.7 108.2,88.7 102.7,108.7 118.7,110.7"/></g></svg>
<text x="368.1" y="192.3" font-size="4.1" text-anchor="middle" fill="#161616" font-family="Liberation Sans, sans-serif">0</text>
<text x="381.3" y="192.3" font-size="4.1" text-anchor="middle" fill="#161616" font-family="Liberation Sans, sans-serif">0.5</text>
<text x="394.6" y="192.3" font-size="4.1" text-anchor="middle" fill="#161616" font-family="Liberation Sans, sans-serif">1</text>
<text x="407.8" y="192.3" font-size="4.1" text-anchor="middle" fill="#161616" font-family="Liberation Sans, sans-serif">1.5</text>
<text x="421.0" y="192.3" font-size="4.1" text-anchor="middle" fill="#161616" font-family="Liberation Sans, sans-serif">2</text>
<text x="434.2" y="192.3" font-size="4.1" text-anchor="middle" fill="#161616" font-family="Liberation Sans, sans-serif">2.5</text>
<text x="447.5" y="192.3" font-size="4.1" text-anchor="middle" fill="#161616" font-family="Liberation Sans, sans-serif">3</text>
<text x="460.7" y="192.3" font-size="4.1" text-anchor="middle" fill="#161616" font-family="Liberation Sans, sans-serif">3.5</text>
<text x="473.9" y="192.3" font-size="4.1" text-anchor="middle" fill="#161616" font-family="Liberation Sans, sans-serif">4</text>
<text transform="translate(426.1,198.5) scale(0.8,1)" font-size="4.9" text-anchor="middle" fill="#2a2a2a" font-family="Liberation Sans, sans-serif">Time/s</text>
<text x="366.1" y="87.1" font-size="3.5" text-anchor="end" fill="#222" font-family="Liberation Sans, sans-serif">10<tspan dy="-1.4" font-size="2.3">4</tspan></text>
<text x="366.1" y="111.2" font-size="3.5" text-anchor="end" fill="#222" font-family="Liberation Sans, sans-serif">10<tspan dy="-1.4" font-size="2.3">3</tspan></text>
<text x="366.1" y="135.4" font-size="3.5" text-anchor="end" fill="#222" font-family="Liberation Sans, sans-serif">10<tspan dy="-1.4" font-size="2.3">2</tspan></text>
<text x="366.1" y="159.6" font-size="3.5" text-anchor="end" fill="#222" font-family="Liberation Sans, sans-serif">10<tspan dy="-1.4" font-size="2.3">1</tspan></text>
<text x="366.1" y="183.5" font-size="3.5" text-anchor="end" fill="#222" font-family="Liberation Sans, sans-serif">10<tspan dy="-1.4" font-size="2.3">0</tspan></text>
<text transform="translate(358.3,132) rotate(-90) scale(1.22,1)" font-size="3.8" text-anchor="middle" fill="#222" font-family="Liberation Sans, sans-serif">Frequency/Hz</text>
<path d="M83.7,217.3 V324.4 M198.0,217.3 V324.4" stroke="#c4c4c4" stroke-width="0.5" fill="none"/>
<path d="M83.7,217.3 H198.0" stroke="#858585" stroke-width="0.6" fill="none"/>
<path d="M83.7,324.45 H198.0" stroke="#6a6a6a" stroke-width="0.6" fill="none"/>
<path d="M96.4,324.4 v-1.1 M96.4,217.3 v1.1 M109.1,324.4 v-1.1 M109.1,217.3 v1.1 M121.8,324.4 v-1.1 M121.8,217.3 v1.1 M134.5,324.4 v-1.1 M134.5,217.3 v1.1 M147.2,324.4 v-1.1 M147.2,217.3 v1.1 M159.9,324.4 v-1.1 M159.9,217.3 v1.1 M172.6,324.4 v-1.1 M172.6,217.3 v1.1 M185.3,324.4 v-1.1 M185.3,217.3 v1.1" stroke="#6a6a6a" stroke-width="0.4" fill="none"/>
<g filter="url(#bl)">
<polygon points="83.9,240.1 84.2,240.2 84.5,231.4 84.8,234.8 85.1,238.9 85.4,233.9 85.7,240.3 86.0,240.0 86.3,240.6 86.6,231.8 86.9,237.6 87.2,240.4 87.5,233.8 87.8,240.2 88.1,240.8 88.4,234.1 88.7,231.0 89.0,240.9 89.3,232.7 89.6,240.3 89.9,236.1 90.2,240.8 90.5,238.1 90.8,234.1 91.1,231.2 91.4,231.8 91.7,236.2 92.0,239.0 92.3,239.8 92.6,229.1 92.9,229.9 93.2,239.0 93.5,237.9 93.8,239.1 94.1,233.4 94.4,240.4 94.7,240.3 95.0,235.6 95.3,239.3 95.6,230.7 95.9,226.4 96.2,233.9 96.5,229.2 96.8,233.8 97.1,232.3 97.4,229.5 97.7,239.6 98.0,234.8 98.3,239.6 98.6,237.2 98.9,228.7 99.2,230.2 99.5,232.7 99.8,240.0 100.1,237.9 100.4,239.0 100.7,228.1 101.0,239.7 101.3,239.1 101.6,238.2 101.9,240.0 102.2,230.7 102.5,234.7 102.8,239.3 103.1,236.0 103.4,239.1 103.7,233.2 104.0,238.1 104.3,239.0 104.6,238.8 104.9,233.4 105.2,233.7 105.5,237.3 105.8,228.8 106.1,237.2 106.4,235.9 106.7,237.6 107.0,236.9 107.3,229.0 107.6,238.5 107.9,239.2 108.2,235.1 108.5,228.2 108.8,229.4 109.1,226.9 109.4,237.1 109.7,231.5 110.0,233.2 110.3,237.0 110.6,236.7 110.9,233.3 111.2,231.6 111.5,233.1 111.8,231.6 112.1,232.3 112.4,238.4 112.7,231.7 113.0,238.7 113.3,239.3 113.6,234.4 113.9,236.1 114.2,232.4 114.5,234.7 114.8,234.1 115.1,238.7 115.4,232.4 115.7,237.8 116.0,231.2 116.3,238.5 116.6,231.8 116.9,236.3 117.2,235.6 117.5,234.0 117.8,230.7 118.1,239.0 118.4,228.5 118.7,239.9 119.0,234.0 119.3,235.9 119.6,240.0 119.9,239.5 120.2,231.9 120.5,232.1 120.8,234.4 121.1,229.6 121.4,232.3 121.7,236.4 122.0,234.0 122.3,237.6 122.6,232.1 122.9,233.4 123.2,238.7 123.5,229.6 123.8,229.8 124.1,232.2 124.4,234.1 124.7,231.8 125.0,234.9 125.3,235.5 125.6,239.8 125.9,235.6 126.2,224.8 126.5,229.0 126.8,232.0 127.1,234.4 127.4,224.2 127.7,240.6 128.0,231.4 128.3,237.7 128.6,240.6 128.9,235.7 129.2,237.8 129.5,238.0 129.8,231.6 130.1,240.2 130.4,235.5 130.7,237.8 131.0,231.9 131.3,236.2 131.6,236.1 131.9,236.6 132.2,230.8 132.5,239.7 132.8,240.3 133.1,240.2 133.4,237.1 133.7,228.9 134.0,239.9 134.3,228.6 134.6,236.6 134.9,240.3 135.2,238.1 135.5,239.9 135.8,234.1 136.1,236.7 136.4,239.4 136.7,239.6 137.0,231.5 137.3,233.3 137.6,238.0 137.9,234.2 138.2,233.7 138.5,229.3 138.8,240.5 139.1,240.2 139.4,238.7 139.7,237.0 140.0,240.4 140.3,240.4 140.6,239.7 140.9,238.2 141.2,233.4 141.5,235.5 141.8,240.4 142.1,240.3 142.4,237.5 142.7,230.9 143.0,228.6 143.3,238.2 143.6,230.6 143.9,229.8 144.2,237.9 144.5,233.2 144.8,238.3 145.1,239.7 145.4,235.8 145.7,240.1 146.0,234.4 146.3,232.1 146.6,230.1 146.9,235.2 147.2,240.1 147.5,230.4 147.8,231.0 148.1,229.1 148.4,229.5 148.7,228.5 149.0,238.4 149.3,239.7 149.6,239.1 149.9,233.9 150.2,239.0 150.5,234.4 150.8,237.1 151.1,237.8 151.4,229.3 151.7,238.9 152.0,237.2 152.3,239.9 152.6,230.0 152.9,237.3 153.2,239.0 153.5,240.2 153.8,235.0 154.1,238.0 154.4,236.9 154.7,240.6 155.0,238.3 155.3,236.0 155.6,236.8 155.9,230.5 156.2,230.3 156.5,229.7 156.8,232.3 157.1,237.1 157.4,236.4 157.7,238.0 158.0,237.9 158.3,240.1 158.6,232.1 158.9,238.0 159.2,234.4 159.5,237.1 159.8,232.0 160.1,235.8 160.4,238.1 160.7,234.4 161.0,239.5 161.3,240.1 161.6,230.8 161.9,236.2 162.2,230.6 162.5,237.5 162.8,232.3 163.1,238.6 163.4,240.1 163.7,235.3 164.0,239.3 164.3,240.1 164.6,239.8 164.9,238.1 165.2,237.5 165.5,236.0 165.8,229.5 166.1,238.3 166.4,239.7 166.7,235.9 167.0,240.4 167.3,238.2 167.6,238.9 167.9,237.0 168.2,240.2 168.5,236.1 168.8,235.0 169.1,232.4 169.4,229.0 169.7,237.9 170.0,231.6 170.3,237.1 170.6,239.1 170.9,230.1 171.2,230.0 171.5,228.5 171.8,230.6 172.1,229.3 172.4,239.2 172.7,237.7 173.0,238.8 173.3,236.3 173.6,233.2 173.9,236.6 174.2,235.6 174.5,231.9 174.8,239.0 175.1,233.0 175.4,239.0 175.7,238.1 176.0,232.0 176.3,232.9 176.6,236.6 176.9,237.1 177.2,230.5 177.5,237.9 177.8,236.6 178.1,238.0 178.4,239.2 178.7,231.1 179.0,239.1 179.3,227.9 179.6,238.7 179.9,238.1 180.2,234.9 180.5,238.1 180.8,237.5 181.1,239.3 181.4,237.3 181.7,239.4 182.0,237.8 182.3,229.2 182.6,238.0 182.9,238.1 183.2,233.2 183.5,229.5 183.8,237.7 184.1,236.9 184.4,232.4 184.7,230.7 185.0,233.8 185.3,238.0 185.6,238.1 185.9,231.3 186.2,232.1 186.5,228.6 186.8,230.8 187.1,235.8 187.4,237.2 187.7,228.5 188.0,231.4 188.3,233.7 188.6,232.0 188.9,235.8 189.2,234.5 189.5,233.4 189.8,234.6 190.1,231.4 190.4,224.7 190.7,229.0 191.0,228.5 191.3,235.9 191.6,227.4 191.9,235.7 192.2,230.0 192.5,237.8 192.8,235.2 193.1,234.4 193.4,229.8 193.7,228.6 194.0,237.7 194.0,313.1 193.7,310.7 193.4,314.9 193.1,307.4 192.8,305.1 192.5,305.5 192.2,311.5 191.9,311.4 191.6,311.0 191.3,314.3 191.0,307.7 190.7,307.5 190.4,308.6 190.1,305.8 189.8,313.5 189.5,316.0 189.2,313.3 188.9,312.1 188.6,306.1 188.3,316.2 188.0,315.9 187.7,310.7 187.4,308.2 187.1,312.9 186.8,311.3 186.5,307.8 186.2,307.4 185.9,305.3 185.6,313.9 185.3,312.4 185.0,305.3 184.7,306.1 184.4,305.2 184.1,305.5 183.8,316.2 183.5,317.1 183.2,311.7 182.9,308.8 182.6,311.1 182.3,315.9 182.0,309.1 181.7,306.6 181.4,316.8 181.1,307.0 180.8,305.6 180.5,313.4 180.2,307.8 179.9,316.9 179.6,310.5 179.3,309.9 179.0,310.3 178.7,308.2 178.4,314.0 178.1,315.3 177.8,313.3 177.5,313.9 177.2,306.1 176.9,306.9 176.6,315.3 176.3,306.6 176.0,308.6 175.7,306.3 175.4,313.0 175.1,315.0 174.8,305.4 174.5,313.5 174.2,311.1 173.9,312.5 173.6,310.4 173.3,310.2 173.0,306.4 172.7,305.1 172.4,308.5 172.1,306.1 171.8,305.0 171.5,316.9 171.2,305.8 170.9,305.2 170.6,314.9 170.3,307.4 170.0,308.2 169.7,306.1 169.4,305.7 169.1,309.2 168.8,317.0 168.5,314.8 168.2,305.5 167.9,311.1 167.6,311.1 167.3,305.7 167.0,306.6 166.7,310.7 166.4,314.5 166.1,313.8 165.8,306.7 165.5,312.8 165.2,310.2 164.9,318.3 164.6,312.8 164.3,314.7 164.0,306.1 163.7,314.2 163.4,315.1 163.1,307.1 162.8,306.6 162.5,309.5 162.2,306.9 161.9,310.6 161.6,307.8 161.3,307.1 161.0,314.6 160.7,309.6 160.4,317.0 160.1,313.9 159.8,307.9 159.5,308.8 159.2,317.3 158.9,306.7 158.6,306.3 158.3,307.4 158.0,315.5 157.7,308.2 157.4,315.8 157.1,309.2 156.8,307.0 156.5,307.8 156.2,317.2 155.9,306.9 155.6,307.4 155.3,318.7 155.0,309.5 154.7,311.6 154.4,318.2 154.1,312.8 153.8,313.8 153.5,310.8 153.2,311.9 152.9,310.4 152.6,308.3 152.3,309.9 152.0,309.8 151.7,313.6 151.4,307.8 151.1,319.8 150.8,312.9 150.5,310.9 150.2,308.6 149.9,319.4 149.6,310.3 149.3,308.1 149.0,318.2 148.7,311.1 148.4,316.9 148.1,307.2 147.8,307.4 147.5,318.9 147.2,310.3 146.9,318.1 146.6,321.3 146.3,314.8 146.0,307.2 145.7,311.1 145.4,316.4 145.1,314.4 144.8,309.1 144.5,314.6 144.2,307.2 143.9,313.2 143.6,312.7 143.3,316.3 143.0,315.9 142.7,313.4 142.4,308.1 142.1,316.6 141.8,308.9 141.5,315.1 141.2,307.4 140.9,308.4 140.6,310.8 140.3,308.5 140.0,307.1 139.7,306.9 139.4,309.0 139.1,314.7 138.8,311.2 138.5,320.1 138.2,315.4 137.9,310.0 137.6,313.2 137.3,310.4 137.0,313.2 136.7,314.0 136.4,307.8 136.1,311.9 135.8,311.4 135.5,313.6 135.2,313.6 134.9,314.6 134.6,317.8 134.3,318.0 134.0,308.3 133.7,318.5 133.4,311.8 133.1,312.1 132.8,316.8 132.5,318.7 132.2,308.9 131.9,310.3 131.6,314.9 131.3,314.5 131.0,308.2 130.7,315.7 130.4,316.6 130.1,311.1 129.8,310.2 129.5,307.6 129.2,318.9 128.9,310.1 128.6,314.6 128.3,309.6 128.0,312.1 127.7,315.2 127.4,310.9 127.1,307.5 126.8,316.0 126.5,318.3 126.2,313.9 125.9,308.2 125.6,311.1 125.3,309.8 125.0,309.5 124.7,307.5 124.4,313.5 124.1,309.0 123.8,314.3 123.5,309.1 123.2,307.4 122.9,309.4 122.6,307.4 122.3,319.5 122.0,309.8 121.7,317.0 121.4,312.2 121.1,309.3 120.8,311.7 120.5,313.8 120.2,314.9 119.9,315.1 119.6,316.2 119.3,312.4 119.0,312.2 118.7,308.4 118.4,308.0 118.1,315.1 117.8,308.2 117.5,311.9 117.2,307.7 116.9,311.9 116.6,308.1 116.3,307.7 116.0,309.4 115.7,309.0 115.4,317.5 115.1,309.9 114.8,321.6 114.5,315.2 114.2,310.2 113.9,315.9 113.6,318.7 113.3,308.4 113.0,308.8 112.7,307.9 112.4,313.4 112.1,321.7 111.8,320.2 111.5,311.8 111.2,307.9 110.9,319.5 110.6,318.5 110.3,308.1 110.0,321.7 109.7,308.7 109.4,319.0 109.1,312.7 108.8,314.3 108.5,315.1 108.2,309.9 107.9,313.5 107.6,318.9 107.3,317.7 107.0,313.7 106.7,317.0 106.4,318.4 106.1,311.2 105.8,308.6 105.5,310.7 105.2,318.7 104.9,310.2 104.6,308.4 104.3,311.7 104.0,307.7 103.7,307.6 103.4,308.6 103.1,310.8 102.8,305.0 102.5,307.1 102.2,310.1 101.9,304.4 101.6,307.1 101.3,311.8 101.0,312.6 100.7,306.8 100.4,305.8 100.1,304.4 99.8,316.3 99.5,308.2 99.2,308.3 98.9,312.4 98.6,312.7 98.3,313.7 98.0,304.1 97.7,308.5 97.4,304.3 97.1,307.6 96.8,309.3 96.5,306.7 96.2,310.1 95.9,304.0 95.6,315.0 95.3,307.5 95.0,304.1 94.7,308.9 94.4,309.9 94.1,307.3 93.8,305.6 93.5,308.3 93.2,303.5 92.9,304.8 92.6,305.8 92.3,308.4 92.0,306.7 91.7,304.3 91.4,303.5 91.1,304.6 90.8,310.9 90.5,308.3 90.2,308.1 89.9,306.7 89.6,307.6 89.3,305.5 89.0,308.3 88.7,304.8 88.4,308.5 88.1,304.3 87.8,314.8 87.5,303.5 87.2,306.5 86.9,309.5 86.6,304.4 86.3,303.7 86.0,309.2 85.7,303.9 85.4,310.8 85.1,305.3 84.8,309.9 84.5,315.9 84.2,304.9 83.9,306.8" fill="#0000ff" fill-opacity="0.6"/>
<polygon points="83.9,236.6 84.2,235.3 84.5,235.3 84.8,238.7 85.1,237.1 85.4,238.5 85.7,235.6 86.0,236.0 86.3,236.9 86.6,235.9 86.9,238.0 87.2,237.7 87.5,240.1 87.8,236.8 88.1,239.5 88.4,237.9 88.7,240.9 89.0,238.9 89.3,237.5 89.6,237.4 89.9,237.8 90.2,239.7 90.5,237.2 90.8,237.2 91.1,237.7 91.4,239.0 91.7,240.2 92.0,237.9 92.3,240.6 92.6,235.4 92.9,239.1 93.2,239.4 93.5,238.4 93.8,240.2 94.1,235.4 94.4,234.6 94.7,235.7 95.0,237.3 95.3,234.7 95.6,238.7 95.9,237.8 96.2,239.4 96.5,237.9 96.8,234.5 97.1,236.3 97.4,237.1 97.7,237.1 98.0,236.5 98.3,236.7 98.6,237.7 98.9,237.3 99.2,239.6 99.5,237.7 99.8,236.3 100.1,239.0 100.4,238.7 100.7,235.4 101.0,239.5 101.3,239.2 101.6,235.3 101.9,239.6 102.2,238.6 102.5,234.7 102.8,237.7 103.1,234.7 103.4,234.8 103.7,238.9 104.0,238.0 104.3,233.6 104.6,237.5 104.9,237.0 105.2,233.5 105.5,238.6 105.8,233.2 106.1,235.5 106.4,235.7 106.7,239.1 107.0,235.7 107.3,234.5 107.6,237.3 107.9,239.1 108.2,238.9 108.5,239.2 108.8,237.4 109.1,234.8 109.4,239.4 109.7,237.6 110.0,237.7 110.3,237.7 110.6,236.9 110.9,236.9 111.2,238.8 111.5,235.1 111.8,237.0 112.1,238.0 112.4,233.9 112.7,235.7 113.0,239.0 113.3,233.9 113.6,236.5 113.9,238.0 114.2,238.5 114.5,239.4 114.8,238.5 115.1,238.3 115.4,238.0 115.7,233.8 116.0,236.5 116.3,239.0 116.6,238.0 116.9,237.7 117.2,239.6 117.5,237.5 117.8,237.3 118.1,234.7 118.4,237.9 118.7,236.3 119.0,236.4 119.3,239.4 119.6,237.0 119.9,237.7 120.2,239.2 120.5,239.7 120.8,233.7 121.1,239.3 121.4,234.4 121.7,237.7 122.0,239.1 122.3,233.6 122.6,235.6 122.9,237.1 123.2,234.2 123.5,235.1 123.8,237.0 124.1,235.2 124.4,235.2 124.7,238.8 125.0,235.6 125.3,234.4 125.6,236.1 125.9,235.4 126.2,234.2 126.5,235.7 126.8,238.0 127.1,237.5 127.4,236.3 127.7,237.3 128.0,240.6 128.3,240.6 128.6,239.5 128.9,236.0 129.2,239.7 129.5,239.1 129.8,235.8 130.1,240.0 130.4,239.2 130.7,239.3 131.0,240.3 131.3,236.2 131.6,238.8 131.9,238.2 132.2,238.6 132.5,240.0 132.8,235.4 133.1,239.8 133.4,239.0 133.7,236.3 134.0,238.7 134.3,237.8 134.6,238.9 134.9,237.5 135.2,239.1 135.5,238.3 135.8,240.6 136.1,240.6 136.4,238.1 136.7,236.0 137.0,234.8 137.3,236.1 137.6,237.9 137.9,237.2 138.2,237.0 138.5,236.6 138.8,234.7 139.1,239.0 139.4,238.3 139.7,236.1 140.0,239.6 140.3,240.1 140.6,235.2 140.9,240.4 141.2,235.2 141.5,235.0 141.8,239.7 142.1,236.1 142.4,239.0 142.7,239.1 143.0,234.4 143.3,235.1 143.6,235.9 143.9,238.1 144.2,234.4 144.5,237.2 144.8,234.4 145.1,236.2 145.4,240.1 145.7,235.6 146.0,235.4 146.3,235.1 146.6,236.9 146.9,240.2 147.2,235.3 147.5,238.2 147.8,239.5 148.1,239.5 148.4,239.6 148.7,235.8 149.0,240.2 149.3,235.1 149.6,240.5 149.9,236.5 150.2,239.5 150.5,237.9 150.8,239.8 151.1,235.3 151.4,240.0 151.7,238.2 152.0,237.3 152.3,238.3 152.6,239.7 152.9,239.3 153.2,235.1 153.5,240.2 153.8,240.6 154.1,235.3 154.4,235.5 154.7,236.8 155.0,238.2 155.3,234.9 155.6,238.4 155.9,240.4 156.2,238.2 156.5,237.6 156.8,237.4 157.1,235.1 157.4,240.0 157.7,235.3 158.0,237.4 158.3,236.0 158.6,238.0 158.9,238.7 159.2,238.5 159.5,238.8 159.8,237.8 160.1,236.9 160.4,235.3 160.7,239.3 161.0,237.8 161.3,237.3 161.6,235.4 161.9,236.1 162.2,236.7 162.5,236.3 162.8,237.8 163.1,235.4 163.4,235.2 163.7,237.1 164.0,239.7 164.3,238.0 164.6,239.0 164.9,239.4 165.2,238.8 165.5,235.5 165.8,238.6 166.1,238.1 166.4,238.4 166.7,239.6 167.0,237.3 167.3,238.3 167.6,234.9 167.9,237.0 168.2,234.4 168.5,235.2 168.8,237.6 169.1,240.1 169.4,239.1 169.7,239.5 170.0,235.8 170.3,239.3 170.6,236.3 170.9,238.2 171.2,237.2 171.5,235.4 171.8,238.2 172.1,238.8 172.4,238.2 172.7,233.9 173.0,236.5 173.3,238.0 173.6,238.7 173.9,239.1 174.2,237.7 174.5,235.9 174.8,236.8 175.1,234.5 175.4,233.1 175.7,236.0 176.0,237.3 176.3,234.4 176.6,238.7 176.9,234.7 177.2,233.9 177.5,234.7 177.8,238.8 178.1,236.1 178.4,234.6 178.7,237.2 179.0,234.4 179.3,238.7 179.6,236.6 179.9,236.5 180.2,235.0 180.5,237.5 180.8,238.4 181.1,235.6 181.4,239.0 181.7,237.6 182.0,237.0 182.3,234.8 182.6,237.1 182.9,236.2 183.2,235.4 183.5,235.3 183.8,233.3 184.1,236.6 184.4,235.9 184.7,238.8 185.0,238.0 185.3,237.6 185.6,237.8 185.9,235.9 186.2,237.7 186.5,235.4 186.8,233.7 187.1,238.1 187.4,237.2 187.7,235.7 188.0,238.0 188.3,237.5 188.6,235.0 188.9,236.0 189.2,232.6 189.5,234.8 189.8,233.6 190.1,236.2 190.4,236.0 190.7,233.0 191.0,234.6 191.3,232.6 191.6,236.8 191.9,237.5 192.2,234.2 192.5,237.5 192.8,237.8 193.1,236.1 193.4,234.3 193.7,236.3 194.0,233.8 194.0,309.0 193.7,310.6 193.4,308.1 193.1,310.0 192.8,309.8 192.5,305.4 192.2,309.6 191.9,308.6 191.6,306.6 191.3,311.2 191.0,308.4 190.7,311.0 190.4,309.8 190.1,309.2 189.8,307.6 189.5,306.7 189.2,309.3 188.9,307.9 188.6,306.6 188.3,311.5 188.0,306.9 187.7,311.3 187.4,306.4 187.1,309.1 186.8,307.9 186.5,308.6 186.2,305.4 185.9,308.6 185.6,310.5 185.3,310.7 185.0,307.8 184.7,310.8 184.4,310.1 184.1,309.3 183.8,307.2 183.5,308.5 183.2,308.2 182.9,307.5 182.6,306.3 182.3,308.5 182.0,307.1 181.7,307.8 181.4,309.9 181.1,306.1 180.8,307.2 180.5,306.9 180.2,306.4 179.9,308.6 179.6,307.0 179.3,310.2 179.0,307.7 178.7,311.2 178.4,306.9 178.1,308.7 177.8,310.3 177.5,305.9 177.2,309.2 176.9,308.4 176.6,308.2 176.3,307.6 176.0,308.7 175.7,310.6 175.4,308.9 175.1,305.4 174.8,310.2 174.5,308.3 174.2,307.0 173.9,306.7 173.6,306.9 173.3,309.3 173.0,309.9 172.7,308.7 172.4,307.5 172.1,307.4 171.8,310.0 171.5,305.1 171.2,307.2 170.9,306.8 170.6,306.9 170.3,310.6 170.0,309.1 169.7,307.5 169.4,307.8 169.1,311.4 168.8,311.1 168.5,311.0 168.2,306.9 167.9,309.0 167.6,311.0 167.3,305.7 167.0,311.5 166.7,308.2 166.4,306.1 166.1,307.2 165.8,307.3 165.5,310.4 165.2,308.1 164.9,306.0 164.6,309.2 164.3,311.2 164.0,307.9 163.7,311.7 163.4,306.8 163.1,307.5 162.8,307.9 162.5,306.8 162.2,311.5 161.9,312.1 161.6,307.9 161.3,311.4 161.0,310.3 160.7,310.9 160.4,311.8 160.1,307.9 159.8,307.4 159.5,306.6 159.2,306.8 158.9,310.7 158.6,309.0 158.3,309.9 158.0,310.8 157.7,309.4 157.4,312.5 157.1,311.0 156.8,310.7 156.5,307.4 156.2,307.2 155.9,309.7 155.6,312.3 155.3,310.9 155.0,308.8 154.7,308.9 154.4,313.4 154.1,309.2 153.8,311.4 153.5,307.9 153.2,308.3 152.9,308.0 152.6,310.1 152.3,312.9 152.0,312.8 151.7,307.4 151.4,312.1 151.1,307.8 150.8,309.6 150.5,309.7 150.2,311.3 149.9,309.3 149.6,310.2 149.3,310.7 149.0,313.0 148.7,308.2 148.4,309.0 148.1,308.4 147.8,313.4 147.5,307.8 147.2,311.2 146.9,311.1 146.6,312.2 146.3,307.9 146.0,307.8 145.7,310.2 145.4,311.7 145.1,307.8 144.8,307.4 144.5,308.8 144.2,312.0 143.9,310.5 143.6,307.3 143.3,309.9 143.0,309.0 142.7,308.0 142.4,307.0 142.1,309.1 141.8,309.9 141.5,307.3 141.2,308.8 140.9,307.9 140.6,311.0 140.3,309.1 140.0,309.0 139.7,310.0 139.4,306.8 139.1,313.0 138.8,310.1 138.5,311.2 138.2,307.4 137.9,309.0 137.6,309.8 137.3,308.8 137.0,310.9 136.7,307.6 136.4,309.3 136.1,312.5 135.8,308.7 135.5,308.1 135.2,309.8 134.9,309.0 134.6,308.1 134.3,308.9 134.0,310.7 133.7,311.5 133.4,310.6 133.1,310.1 132.8,307.9 132.5,309.2 132.2,313.7 131.9,312.3 131.6,308.5 131.3,313.7 131.0,312.3 130.7,310.1 130.4,312.0 130.1,308.0 129.8,307.8 129.5,308.4 129.2,307.6 128.9,311.5 128.6,308.6 128.3,311.3 128.0,309.1 127.7,311.7 127.4,310.2 127.1,309.6 126.8,308.3 126.5,312.9 126.2,308.6 125.9,308.2 125.6,311.5 125.3,308.9 125.0,311.9 124.7,307.3 124.4,307.3 124.1,309.8 123.8,310.0 123.5,307.3 123.2,307.3 122.9,310.1 122.6,310.8 122.3,310.8 122.0,307.5 121.7,311.3 121.4,307.5 121.1,308.7 120.8,309.2 120.5,308.5 120.2,312.1 119.9,311.0 119.6,308.1 119.3,308.9 119.0,312.4 118.7,309.0 118.4,310.6 118.1,309.3 117.8,307.9 117.5,308.7 117.2,312.2 116.9,313.7 116.6,311.4 116.3,309.5 116.0,308.7 115.7,312.0 115.4,311.7 115.1,310.8 114.8,308.0 114.5,309.9 114.2,309.1 113.9,313.1 113.6,308.8 113.3,308.2 113.0,310.6 112.7,310.2 112.4,308.1 112.1,307.4 111.8,313.3 111.5,307.4 111.2,311.2 110.9,310.5 110.6,311.5 110.3,307.4 110.0,312.5 109.7,309.4 109.4,311.4 109.1,311.8 108.8,311.7 108.5,307.3 108.2,310.2 107.9,311.6 107.6,311.2 107.3,310.9 107.0,309.7 106.7,309.9 106.4,309.1 106.1,307.7 105.8,309.8 105.5,312.0 105.2,309.3 104.9,307.9 104.6,307.9 104.3,307.3 104.0,307.2 103.7,308.7 103.4,311.1 103.1,306.8 102.8,305.3 102.5,309.4 102.2,308.4 101.9,305.6 101.6,308.9 101.3,304.8 101.0,310.6 100.7,304.8 100.4,308.9 100.1,310.0 99.8,304.4 99.5,309.9 99.2,306.2 98.9,309.0 98.6,307.8 98.3,308.2 98.0,304.1 97.7,305.4 97.4,306.5 97.1,308.7 96.8,304.9 96.5,307.1 96.2,304.2 95.9,305.0 95.6,307.4 95.3,304.0 95.0,309.7 94.7,304.7 94.4,309.3 94.1,309.1 93.8,306.8 93.5,309.6 93.2,304.5 92.9,307.2 92.6,307.8 92.3,308.1 92.0,307.1 91.7,304.1 91.4,303.4 91.1,306.9 90.8,303.9 90.5,307.3 90.2,305.4 89.9,304.4 89.6,304.8 89.3,306.4 89.0,307.0 88.7,305.7 88.4,307.6 88.1,307.2 87.8,306.7 87.5,305.1 87.2,304.5 86.9,303.7 86.6,304.5 86.3,306.5 86.0,309.6 85.7,304.4 85.4,307.0 85.1,304.3 84.8,307.1 84.5,306.7 84.2,305.1 83.9,306.2" fill="#0000ff" fill-opacity="0.85"/>
<polygon points="83.9,240.5 84.8,241.0 85.7,240.9 86.6,241.2 87.5,241.5 88.4,241.4 89.3,241.5 90.2,241.5 91.1,241.0 92.0,240.9 92.9,240.8 93.8,241.0 94.7,241.2 95.6,240.6 96.5,240.8 97.4,240.2 98.3,240.1 99.2,240.3 100.1,240.7 101.0,240.8 101.9,240.5 102.8,240.0 103.7,239.6 104.6,239.3 105.5,239.3 106.4,239.7 107.3,239.3 108.2,240.0 109.1,240.3 110.0,239.8 110.9,240.3 111.8,239.7 112.7,239.8 113.6,239.9 114.5,240.4 115.4,239.7 116.3,240.1 117.2,240.3 118.1,240.2 119.0,240.9 119.9,240.1 120.8,240.4 121.7,239.9 122.6,239.8 123.5,239.6 124.4,239.9 125.3,240.4 126.2,240.8 127.1,240.6 128.0,240.9 128.9,241.1 129.8,240.7 130.7,240.9 131.6,241.1 132.5,240.6 133.4,240.5 134.3,240.5 135.2,241.0 136.1,241.3 137.0,241.4 137.9,241.3 138.8,241.0 139.7,241.3 140.6,240.9 141.5,240.9 142.4,240.3 143.3,240.7 144.2,240.3 145.1,240.4 146.0,240.5 146.9,240.8 147.8,240.5 148.7,241.0 149.6,240.9 150.5,240.8 151.4,241.4 152.3,241.2 153.2,240.9 154.1,240.8 155.0,241.0 155.9,241.1 156.8,240.8 157.7,240.5 158.6,240.2 159.5,240.3 160.4,240.7 161.3,240.2 162.2,240.9 163.1,240.6 164.0,240.4 164.9,240.3 165.8,240.6 166.7,241.1 167.6,240.5 168.5,240.4 169.4,240.1 170.3,240.5 171.2,240.5 172.1,240.0 173.0,239.7 173.9,240.1 174.8,239.6 175.7,239.8 176.6,239.3 177.5,239.2 178.4,239.3 179.3,239.6 180.2,239.9 181.1,240.2 182.0,239.8 182.9,239.4 183.8,239.8 184.7,239.3 185.6,239.2 186.5,239.2 187.4,238.8 188.3,238.3 189.2,238.7 190.1,238.0 191.0,238.1 191.9,238.5 192.8,238.5 193.7,238.3 193.7,304.8 192.8,304.3 191.9,305.1 191.0,305.0 190.1,304.8 189.2,304.8 188.3,304.9 187.4,304.9 186.5,304.3 185.6,304.7 184.7,304.4 183.8,304.6 182.9,304.4 182.0,305.3 181.1,305.1 180.2,305.5 179.3,305.1 178.4,305.6 177.5,305.0 176.6,305.3 175.7,305.2 174.8,305.3 173.9,305.1 173.0,304.8 172.1,304.8 171.2,304.8 170.3,305.1 169.4,304.8 168.5,305.3 167.6,305.0 166.7,305.2 165.8,305.5 164.9,305.1 164.0,305.4 163.1,305.5 162.2,305.2 161.3,305.4 160.4,305.9 159.5,305.7 158.6,305.9 157.7,305.8 156.8,306.4 155.9,306.1 155.0,306.5 154.1,306.7 153.2,307.0 152.3,307.2 151.4,307.0 150.5,306.4 149.6,306.8 148.7,306.5 147.8,307.1 146.9,306.6 146.0,306.8 145.1,306.5 144.2,306.9 143.3,306.6 142.4,306.2 141.5,306.2 140.6,306.6 139.7,306.5 138.8,306.3 137.9,306.5 137.0,306.5 136.1,306.9 135.2,306.6 134.3,307.0 133.4,307.4 132.5,307.3 131.6,307.0 130.7,307.2 129.8,307.0 128.9,307.2 128.0,307.2 127.1,306.7 126.2,307.3 125.3,306.9 124.4,306.6 123.5,307.0 122.6,307.2 121.7,306.7 120.8,307.3 119.9,307.3 119.0,307.7 118.1,307.1 117.2,307.5 116.3,307.5 115.4,307.4 114.5,306.9 113.6,307.4 112.7,306.9 111.8,307.1 110.9,306.9 110.0,306.3 109.1,306.6 108.2,306.5 107.3,307.2 106.4,306.8 105.5,307.3 104.6,306.8 103.7,305.6 102.8,304.7 101.9,304.0 101.0,304.1 100.1,303.6 99.2,303.5 98.3,303.7 97.4,303.7 96.5,303.7 95.6,303.3 94.7,302.8 93.8,303.0 92.9,302.8 92.0,302.6 91.1,303.1 90.2,302.8 89.3,302.7 88.4,302.9 87.5,302.8 86.6,302.8 85.7,303.2 84.8,303.6 83.9,303.2" fill="#0000ff"/>
</g>
<path d="M193.7,239.5 Q198.2,283.5 193.7,303.5 Z" fill="#0000ff"/>
<text x="83.7" y="330.35" font-size="3.8" text-anchor="middle" fill="#161616" font-family="Liberation Sans, sans-serif">0</text>
<text x="96.4" y="330.35" font-size="3.8" text-anchor="middle" fill="#161616" font-family="Liberation Sans, sans-serif">0.5</text>
<text x="109.1" y="330.35" font-size="3.8" text-anchor="middle" fill="#161616" font-family="Liberation Sans, sans-serif">1</text>
<text x="121.8" y="330.35" font-size="3.8" text-anchor="middle" fill="#161616" font-family="Liberation Sans, sans-serif">1.5</text>
<text x="134.5" y="330.35" font-size="3.8" text-anchor="middle" fill="#161616" font-family="Liberation Sans, sans-serif">2</text>
<text x="147.2" y="330.35" font-size="3.8" text-anchor="middle" fill="#161616" font-family="Liberation Sans, sans-serif">2.5</text>
<text x="159.9" y="330.35" font-size="3.8" text-anchor="middle" fill="#161616" font-family="Liberation Sans, sans-serif">3</text>
<text x="172.6" y="330.35" font-size="3.8" text-anchor="middle" fill="#161616" font-family="Liberation Sans, sans-serif">3.5</text>
<text x="185.3" y="330.35" font-size="3.8" text-anchor="middle" fill="#161616" font-family="Liberation Sans, sans-serif">4</text>
<text x="198.0" y="330.35" font-size="3.8" text-anchor="middle" fill="#161616" font-family="Liberation Sans, sans-serif">4.5</text>
<text transform="translate(141.0,336.7) scale(0.8,1)" font-size="4.9" text-anchor="middle" fill="#2a2a2a" font-family="Liberation Sans, sans-serif">Time/s</text>
<text transform="translate(82.0,218.7) scale(0.92,1)" font-size="4.0" text-anchor="end" fill="#141414" font-family="Liberation Sans, sans-serif">12</text>
<text transform="translate(82.0,230.5) scale(0.92,1)" font-size="4.0" text-anchor="end" fill="#141414" font-family="Liberation Sans, sans-serif">10</text>
<text transform="translate(82.0,242.4) scale(0.92,1)" font-size="4.0" text-anchor="end" fill="#141414" font-family="Liberation Sans, sans-serif">8</text>
<text transform="translate(82.0,254.2) scale(0.92,1)" font-size="4.0" text-anchor="end" fill="#141414" font-family="Liberation Sans, sans-serif">6</text>
<text transform="translate(82.0,266.1) scale(0.92,1)" font-size="4.0" text-anchor="end" fill="#141414" font-family="Liberation Sans, sans-serif">4</text>
<text transform="translate(82.0,277.9) scale(0.92,1)" font-size="4.0" text-anchor="end" fill="#141414" font-family="Liberation Sans, sans-serif">2</text>
<text transform="translate(82.0,289.8) scale(0.92,1)" font-size="4.0" text-anchor="end" fill="#141414" font-family="Liberation Sans, sans-serif">0</text>
<text transform="translate(82.0,301.6) scale(0.92,1)" font-size="4.0" text-anchor="end" fill="#141414" font-family="Liberation Sans, sans-serif">-2</text>
<text transform="translate(82.0,313.5) scale(0.92,1)" font-size="4.0" text-anchor="end" fill="#141414" font-family="Liberation Sans, sans-serif">-4</text>
<text transform="translate(82.0,325.4) scale(0.92,1)" font-size="4.0" text-anchor="end" fill="#141414" font-family="Liberation Sans, sans-serif">-6</text>
<text transform="translate(75.8,271) rotate(-90) scale(1.2,1)" font-size="3.9" text-anchor="middle" fill="#262626" font-family="Liberation Sans, sans-serif">Cutting force/N</text>
<path d="M225.5,217.3 V324.4 M340.6,217.3 V324.4" stroke="#c4c4c4" stroke-width="0.5" fill="none"/>
<path d="M225.5,217.3 H340.6" stroke="#858585" stroke-width="0.6" fill="none"/>
<path d="M225.5,324.45 H340.6" stroke="#6a6a6a" stroke-width="0.6" fill="none"/>
<path d="M238.3,324.4 v-1.1 M238.3,217.3 v1.1 M251.1,324.4 v-1.1 M251.1,217.3 v1.1 M263.9,324.4 v-1.1 M263.9,217.3 v1.1 M276.7,324.4 v-1.1 M276.7,217.3 v1.1 M289.4,324.4 v-1.1 M289.4,217.3 v1.1 M302.2,324.4 v-1.1 M302.2,217.3 v1.1 M315.0,324.4 v-1.1 M315.0,217.3 v1.1 M327.8,324.4 v-1.1 M327.8,217.3 v1.1" stroke="#6a6a6a" stroke-width="0.4" fill="none"/>
<g filter="url(#bl)">
<polygon points="225.7,235.1 226.0,233.0 226.3,237.1 226.6,231.7 226.9,235.8 227.2,231.9 227.5,232.1 227.8,237.8 228.1,234.9 228.4,237.5 228.7,235.5 229.0,233.1 229.3,235.8 229.6,235.5 229.9,235.4 230.2,237.9 230.5,236.5 230.8,237.4 231.1,236.3 231.4,234.0 231.7,237.4 232.0,235.4 232.3,234.0 232.6,236.1 232.9,232.6 233.2,236.0 233.5,232.7 233.8,235.3 234.1,233.3 234.4,236.2 234.7,231.8 235.0,233.6 235.3,236.2 235.6,235.6 235.9,236.6 236.2,232.1 236.5,232.1 236.8,232.2 237.1,234.8 237.4,236.7 237.7,235.9 238.0,234.6 238.3,236.3 238.6,237.6 238.9,235.7 239.2,236.6 239.5,236.3 239.8,233.4 240.1,235.0 240.4,233.4 240.7,234.4 241.0,234.5 241.3,236.7 241.6,233.8 241.9,236.8 242.2,236.9 242.5,236.0 242.8,236.6 243.1,233.3 243.4,236.0 243.7,236.6 244.0,232.8 244.3,231.3 244.6,233.2 244.9,230.6 245.2,231.9 245.5,230.2 245.8,232.2 246.1,231.0 246.4,230.4 246.7,234.3 247.0,233.6 247.3,231.7 247.6,232.7 247.9,229.7 248.2,233.7 248.5,234.2 248.8,233.6 249.1,233.5 249.4,230.0 249.7,234.3 250.0,229.6 250.3,228.6 250.6,234.3 250.9,228.8 251.2,230.8 251.5,234.2 251.8,230.0 252.1,234.2 252.4,233.3 252.7,233.3 253.0,233.3 253.3,234.2 253.6,233.2 253.9,232.2 254.2,232.3 254.5,232.7 254.8,229.6 255.1,230.1 255.4,234.5 255.7,231.2 256.0,230.7 256.3,229.6 256.6,233.6 256.9,228.2 257.2,232.6 257.5,233.1 257.8,232.7 258.1,233.4 258.4,231.5 258.7,232.7 259.0,229.4 259.3,233.1 259.6,233.2 259.9,234.4 260.2,233.3 260.5,233.0 260.8,228.7 261.1,232.2 261.4,234.3 261.7,233.8 262.0,232.6 262.3,229.8 262.6,231.2 262.9,231.8 263.2,234.0 263.5,232.3 263.8,234.0 264.1,234.5 264.4,230.9 264.7,231.4 265.0,228.6 265.3,230.6 265.6,234.0 265.9,234.5 266.2,233.1 266.5,233.6 266.8,231.3 267.1,233.4 267.4,234.4 267.7,234.3 268.0,233.4 268.3,231.0 268.6,234.1 268.9,233.6 269.2,233.9 269.5,230.7 269.8,230.6 270.1,232.7 270.4,234.2 270.7,229.0 271.0,229.8 271.3,233.1 271.6,234.5 271.9,232.9 272.2,234.4 272.5,233.6 272.8,233.5 273.1,234.0 273.4,229.6 273.7,233.8 274.0,234.8 274.3,232.7 274.6,229.8 274.9,234.5 275.2,233.0 275.5,233.0 275.8,232.0 276.1,234.1 276.4,234.0 276.7,229.4 277.0,230.7 277.3,231.2 277.6,232.1 277.9,229.4 278.2,234.9 278.5,233.6 278.8,232.3 279.1,234.8 279.4,228.9 279.7,231.7 280.0,231.1 280.3,229.0 280.6,232.4 280.9,229.5 281.2,233.0 281.5,227.6 281.8,232.6 282.1,230.5 282.4,233.7 282.7,232.6 283.0,232.1 283.3,231.7 283.6,228.9 283.9,231.5 284.2,229.4 284.5,234.0 284.8,233.7 285.1,233.8 285.4,233.8 285.7,231.8 286.0,233.9 286.3,230.8 286.6,229.3 286.9,228.8 287.2,233.6 287.5,233.5 287.8,232.6 288.1,233.8 288.4,230.9 288.7,232.3 289.0,232.4 289.3,233.4 289.6,233.5 289.9,228.7 290.2,231.0 290.5,230.9 290.8,228.5 291.1,233.1 291.4,231.6 291.7,233.0 292.0,229.1 292.3,228.2 292.6,232.3 292.9,228.6 293.2,227.3 293.5,232.3 293.8,227.1 294.1,231.9 294.4,229.4 294.7,230.6 295.0,231.6 295.3,230.1 295.6,232.5 295.9,230.7 296.2,230.6 296.5,229.7 296.8,228.7 297.1,226.7 297.4,228.5 297.7,228.0 298.0,231.6 298.3,232.7 298.6,230.1 298.9,232.9 299.2,227.5 299.5,231.4 299.8,232.6 300.1,233.2 300.4,228.9 300.7,228.9 301.0,233.2 301.3,229.5 301.6,233.2 301.9,230.1 302.2,231.2 302.5,230.4 302.8,232.9 303.1,229.1 303.4,229.1 303.7,228.6 304.0,231.8 304.3,232.2 304.6,230.8 304.9,229.7 305.2,229.1 305.5,231.4 305.8,229.5 306.1,230.1 306.4,230.6 306.7,229.6 307.0,232.2 307.3,232.5 307.6,232.4 307.9,229.0 308.2,227.1 308.5,232.3 308.8,230.1 309.1,230.7 309.4,228.4 309.7,233.1 310.0,230.4 310.3,228.2 310.6,227.0 310.9,231.3 311.2,230.8 311.5,227.9 311.8,226.8 312.1,231.6 312.4,227.0 312.7,231.4 313.0,231.5 313.3,229.7 313.6,231.2 313.9,229.8 314.2,230.8 314.5,230.8 314.8,225.9 315.1,227.8 315.4,231.9 315.7,231.9 316.0,228.6 316.3,230.3 316.6,231.4 316.9,231.8 317.2,229.7 317.5,231.8 317.8,230.3 318.1,233.3 318.4,234.0 318.7,233.4 319.0,230.8 319.3,230.8 319.6,228.0 319.9,227.4 320.2,227.8 320.5,230.6 320.8,231.0 321.1,226.0 321.4,225.3 321.7,230.4 322.0,229.7 322.3,229.8 322.6,228.9 322.9,225.4 323.2,228.3 323.5,227.0 323.8,225.7 324.1,229.7 324.4,229.2 324.7,224.3 325.0,228.1 325.3,227.8 325.6,228.0 325.9,228.2 326.2,227.0 326.5,225.6 326.8,227.9 327.1,227.5 327.4,228.3 327.7,230.1 328.0,226.9 328.3,230.2 328.6,229.1 328.9,229.8 329.2,228.9 329.5,226.7 329.8,228.7 330.1,228.5 330.4,229.5 330.7,229.6 331.0,225.4 331.3,228.4 331.6,231.1 331.9,226.5 332.2,228.9 332.5,225.2 332.8,230.6 333.1,225.0 333.4,227.7 333.7,227.7 334.0,228.5 334.3,224.5 334.6,225.7 334.9,226.3 335.2,228.8 335.5,228.6 335.8,228.0 336.1,229.2 336.1,314.1 335.8,311.3 335.5,311.6 335.2,312.1 334.9,312.7 334.6,311.7 334.3,313.4 334.0,310.6 333.7,311.7 333.4,311.5 333.1,311.0 332.8,312.0 332.5,313.2 332.2,311.4 331.9,312.1 331.6,310.3 331.3,311.9 331.0,313.7 330.7,310.2 330.4,310.5 330.1,309.9 329.8,309.9 329.5,310.4 329.2,310.5 328.9,311.5 328.6,312.3 328.3,309.6 328.0,312.7 327.7,311.3 327.4,310.7 327.1,310.1 326.8,309.7 326.5,309.6 326.2,309.8 325.9,312.2 325.6,311.6 325.3,314.0 325.0,310.5 324.7,311.8 324.4,310.9 324.1,311.3 323.8,313.5 323.5,310.9 323.2,312.4 322.9,313.8 322.6,314.3 322.3,314.3 322.0,314.3 321.7,311.5 321.4,312.0 321.1,311.2 320.8,312.0 320.5,314.8 320.2,311.0 319.9,311.2 319.6,312.7 319.3,311.1 319.0,310.3 318.7,311.9 318.4,310.6 318.1,311.3 317.8,309.9 317.5,312.3 317.2,311.6 316.9,309.3 316.6,309.5 316.3,312.0 316.0,310.4 315.7,309.2 315.4,310.1 315.1,310.6 314.8,308.4 314.5,308.8 314.2,311.0 313.9,311.1 313.6,308.3 313.3,310.1 313.0,311.8 312.7,312.1 312.4,308.6 312.1,309.5 311.8,309.5 311.5,309.4 311.2,310.8 310.9,308.8 310.6,309.4 310.3,310.2 310.0,309.5 309.7,309.0 309.4,308.9 309.1,310.8 308.8,309.1 308.5,309.8 308.2,311.2 307.9,310.5 307.6,309.8 307.3,309.0 307.0,309.0 306.7,310.4 306.4,311.4 306.1,310.1 305.8,311.0 305.5,310.4 305.2,310.9 304.9,311.7 304.6,311.0 304.3,312.6 304.0,309.8 303.7,310.7 303.4,311.4 303.1,311.7 302.8,309.2 302.5,310.8 302.2,309.9 301.9,310.6 301.6,311.5 301.3,311.5 301.0,311.0 300.7,312.5 300.4,312.9 300.1,310.6 299.8,311.0 299.5,311.1 299.2,310.1 298.9,312.4 298.6,310.1 298.3,311.4 298.0,310.5 297.7,311.9 297.4,311.0 297.1,309.4 296.8,310.1 296.5,310.8 296.2,308.7 295.9,311.9 295.6,310.0 295.3,311.1 295.0,310.2 294.7,309.8 294.4,308.2 294.1,309.6 293.8,310.8 293.5,309.5 293.2,307.4 292.9,307.4 292.6,311.0 292.3,309.3 292.0,308.2 291.7,307.1 291.4,307.3 291.1,308.2 290.8,307.2 290.5,307.2 290.2,310.0 289.9,307.6 289.6,308.3 289.3,309.6 289.0,308.3 288.7,310.2 288.4,310.3 288.1,308.1 287.8,307.7 287.5,307.8 287.2,307.8 286.9,310.6 286.6,308.7 286.3,307.7 286.0,307.9 285.7,309.8 285.4,310.0 285.1,310.1 284.8,307.0 284.5,308.1 284.2,308.5 283.9,307.5 283.6,309.7 283.3,307.8 283.0,307.4 282.7,307.9 282.4,308.5 282.1,307.0 281.8,310.6 281.5,309.0 281.2,307.3 280.9,307.0 280.6,309.5 280.3,306.6 280.0,306.4 279.7,306.2 279.4,306.3 279.1,306.4 278.8,307.9 278.5,307.6 278.2,308.2 277.9,308.0 277.6,309.4 277.3,306.0 277.0,306.4 276.7,306.5 276.4,306.0 276.1,309.3 275.8,308.0 275.5,306.3 275.2,307.9 274.9,307.7 274.6,308.1 274.3,309.0 274.0,307.3 273.7,306.2 273.4,307.2 273.1,306.4 272.8,310.1 272.5,306.3 272.2,307.3 271.9,307.3 271.6,306.4 271.3,309.8 271.0,307.4 270.7,309.2 270.4,310.1 270.1,310.1 269.8,306.5 269.5,309.5 269.2,306.7 268.9,308.0 268.6,308.5 268.3,307.9 268.0,308.1 267.7,306.4 267.4,309.9 267.1,308.7 266.8,308.3 266.5,306.9 266.2,310.1 265.9,308.8 265.6,307.3 265.3,306.7 265.0,306.9 264.7,306.7 264.4,310.3 264.1,308.0 263.8,307.1 263.5,310.4 263.2,307.8 262.9,308.6 262.6,309.2 262.3,307.2 262.0,311.1 261.7,307.4 261.4,308.0 261.1,311.5 260.8,309.5 260.5,308.2 260.2,309.3 259.9,308.7 259.6,311.1 259.3,310.4 259.0,308.6 258.7,309.7 258.4,307.6 258.1,311.3 257.8,311.8 257.5,307.8 257.2,309.0 256.9,308.6 256.6,307.4 256.3,308.7 256.0,309.2 255.7,307.5 255.4,308.8 255.1,307.0 254.8,307.6 254.5,308.3 254.2,307.0 253.9,308.8 253.6,309.1 253.3,308.9 253.0,308.4 252.7,309.0 252.4,308.2 252.1,306.9 251.8,307.1 251.5,306.4 251.2,306.7 250.9,307.4 250.6,309.4 250.3,307.7 250.0,306.3 249.7,308.1 249.4,307.2 249.1,306.4 248.8,307.5 248.5,306.7 248.2,308.4 247.9,307.5 247.6,308.8 247.3,309.5 247.0,309.1 246.7,308.2 246.4,306.5 246.1,308.1 245.8,307.3 245.5,309.4 245.2,306.8 244.9,309.0 244.6,306.9 244.3,306.3 244.0,306.6 243.7,306.4 243.4,308.2 243.1,307.3 242.8,310.4 242.5,310.1 242.2,307.8 241.9,310.7 241.6,305.6 241.3,309.3 241.0,307.7 240.7,307.8 240.4,307.4 240.1,308.5 239.8,307.3 239.5,304.8 239.2,305.3 238.9,306.0 238.6,304.6 238.3,304.9 238.0,309.1 237.7,306.4 237.4,305.0 237.1,305.1 236.8,304.9 236.5,304.8 236.2,306.1 235.9,305.6 235.6,308.6 235.3,305.9 235.0,306.1 234.7,308.7 234.4,307.0 234.1,308.7 233.8,305.6 233.5,305.9 233.2,304.9 232.9,306.3 232.6,305.3 232.3,305.2 232.0,304.8 231.7,305.8 231.4,307.2 231.1,305.8 230.8,305.3 230.5,304.8 230.2,308.2 229.9,308.4 229.6,306.5 229.3,305.7 229.0,305.7 228.7,305.5 228.4,305.0 228.1,305.3 227.8,309.1 227.5,306.7 227.2,305.8 226.9,305.6 226.6,307.3 226.3,306.3 226.0,307.8 225.7,305.4" fill="#0000ff" fill-opacity="0.6"/>
<polygon points="225.7,236.7 226.0,235.2 226.3,235.7 226.6,235.0 226.9,237.0 227.2,234.9 227.5,234.8 227.8,236.8 228.1,235.1 228.4,235.9 228.7,237.5 229.0,237.0 229.3,237.6 229.6,235.6 229.9,237.8 230.2,235.7 230.5,237.5 230.8,235.4 231.1,235.6 231.4,235.7 231.7,237.0 232.0,235.5 232.3,235.6 232.6,236.3 232.9,234.1 233.2,234.1 233.5,235.0 233.8,233.9 234.1,235.7 234.4,236.0 234.7,235.5 235.0,234.9 235.3,233.9 235.6,234.2 235.9,236.2 236.2,234.5 236.5,234.4 236.8,235.5 237.1,235.9 237.4,236.1 237.7,237.0 238.0,236.9 238.3,236.3 238.6,236.4 238.9,236.4 239.2,236.6 239.5,235.2 239.8,237.3 240.1,237.1 240.4,234.7 240.7,235.8 241.0,235.6 241.3,236.0 241.6,236.0 241.9,236.2 242.2,235.5 242.5,234.5 242.8,236.7 243.1,233.9 243.4,236.2 243.7,235.4 244.0,234.3 244.3,236.4 244.6,234.6 244.9,234.5 245.2,234.3 245.5,233.1 245.8,234.9 246.1,234.4 246.4,231.9 246.7,231.6 247.0,234.1 247.3,232.5 247.6,234.2 247.9,231.6 248.2,231.6 248.5,232.5 248.8,233.1 249.1,232.6 249.4,232.9 249.7,232.0 250.0,231.9 250.3,231.8 250.6,231.9 250.9,233.8 251.2,233.9 251.5,232.4 251.8,232.8 252.1,231.4 252.4,234.2 252.7,233.3 253.0,231.8 253.3,233.3 253.6,234.2 253.9,233.7 254.2,231.6 254.5,232.3 254.8,232.1 255.1,234.0 255.4,232.3 255.7,234.6 256.0,234.2 256.3,233.0 256.6,232.9 256.9,233.5 257.2,231.8 257.5,233.8 257.8,234.0 258.1,234.2 258.4,232.5 258.7,232.3 259.0,232.2 259.3,232.9 259.6,234.5 259.9,233.5 260.2,234.2 260.5,233.9 260.8,234.5 261.1,232.6 261.4,234.0 261.7,233.0 262.0,231.7 262.3,234.0 262.6,233.9 262.9,233.9 263.2,234.4 263.5,233.0 263.8,233.0 264.1,232.9 264.4,231.6 264.7,233.0 265.0,232.8 265.3,231.9 265.6,231.9 265.9,233.1 266.2,232.8 266.5,233.5 266.8,233.1 267.1,233.2 267.4,233.0 267.7,233.9 268.0,232.7 268.3,233.7 268.6,233.6 268.9,233.6 269.2,232.1 269.5,234.2 269.8,231.3 270.1,234.0 270.4,232.7 270.7,233.9 271.0,232.5 271.3,232.0 271.6,233.4 271.9,233.4 272.2,231.7 272.5,233.1 272.8,233.8 273.1,234.3 273.4,232.4 273.7,232.9 274.0,234.2 274.3,233.6 274.6,234.7 274.9,232.7 275.2,232.3 275.5,232.9 275.8,233.0 276.1,234.7 276.4,232.3 276.7,233.4 277.0,232.3 277.3,232.9 277.6,232.4 277.9,232.7 278.2,232.9 278.5,233.4 278.8,234.3 279.1,234.3 279.4,232.2 279.7,232.5 280.0,234.2 280.3,234.5 280.6,232.1 280.9,234.5 281.2,232.8 281.5,232.5 281.8,233.3 282.1,231.6 282.4,232.5 282.7,231.2 283.0,232.2 283.3,232.6 283.6,234.0 283.9,231.5 284.2,233.9 284.5,233.4 284.8,232.3 285.1,232.2 285.4,231.3 285.7,231.2 286.0,231.3 286.3,231.8 286.6,233.1 286.9,232.0 287.2,233.7 287.5,233.2 287.8,231.0 288.1,232.1 288.4,231.1 288.7,233.4 289.0,232.1 289.3,233.2 289.6,231.6 289.9,230.7 290.2,232.3 290.5,233.3 290.8,232.5 291.1,233.1 291.4,232.0 291.7,230.8 292.0,230.1 292.3,232.3 292.6,232.6 292.9,232.8 293.2,232.1 293.5,232.2 293.8,232.3 294.1,230.1 294.4,232.0 294.7,232.3 295.0,232.2 295.3,230.5 295.6,231.4 295.9,231.5 296.2,230.4 296.5,230.6 296.8,231.3 297.1,230.8 297.4,231.9 297.7,231.6 298.0,230.8 298.3,232.8 298.6,231.8 298.9,232.0 299.2,232.2 299.5,231.8 299.8,231.2 300.1,231.1 300.4,231.1 300.7,231.6 301.0,233.3 301.3,232.7 301.6,231.4 301.9,233.0 302.2,231.6 302.5,233.1 302.8,230.7 303.1,232.7 303.4,231.9 303.7,232.7 304.0,232.6 304.3,231.7 304.6,231.5 304.9,230.3 305.2,232.3 305.5,230.2 305.8,232.3 306.1,231.9 306.4,230.0 306.7,231.6 307.0,232.4 307.3,231.8 307.6,230.6 307.9,230.5 308.2,232.8 308.5,231.7 308.8,232.2 309.1,233.0 309.4,232.0 309.7,232.4 310.0,230.9 310.3,232.8 310.6,231.5 310.9,231.7 311.2,231.4 311.5,231.2 311.8,229.2 312.1,230.1 312.4,230.9 312.7,230.9 313.0,230.5 313.3,228.7 313.6,229.7 313.9,228.3 314.2,230.8 314.5,230.1 314.8,229.6 315.1,229.5 315.4,231.8 315.7,231.2 316.0,229.9 316.3,231.0 316.6,232.6 316.9,232.0 317.2,231.9 317.5,233.5 317.8,232.6 318.1,232.6 318.4,231.2 318.7,232.5 319.0,232.1 319.3,232.9 319.6,232.6 319.9,231.1 320.2,230.1 320.5,231.0 320.8,229.5 321.1,230.6 321.4,230.0 321.7,229.0 322.0,229.5 322.3,228.9 322.6,227.8 322.9,229.3 323.2,227.9 323.5,226.9 323.8,227.5 324.1,229.0 324.4,228.2 324.7,229.8 325.0,228.1 325.3,228.0 325.6,229.7 325.9,229.3 326.2,228.7 326.5,228.6 326.8,228.8 327.1,228.4 327.4,228.1 327.7,229.4 328.0,230.6 328.3,228.4 328.6,230.5 328.9,229.4 329.2,228.8 329.5,228.5 329.8,229.5 330.1,229.2 330.4,228.1 330.7,228.8 331.0,230.4 331.3,228.3 331.6,229.3 331.9,230.4 332.2,230.3 332.5,229.7 332.8,229.4 333.1,228.2 333.4,229.3 333.7,228.4 334.0,229.4 334.3,228.9 334.6,229.2 334.9,228.9 335.2,227.8 335.5,229.1 335.8,228.3 336.1,227.3 336.1,310.9 335.8,311.0 335.5,310.9 335.2,311.9 334.9,311.2 334.6,312.6 334.3,311.0 334.0,312.3 333.7,311.8 333.4,311.2 333.1,312.3 332.8,311.9 332.5,311.8 332.2,311.7 331.9,310.9 331.6,311.6 331.3,311.6 331.0,310.8 330.7,310.1 330.4,310.2 330.1,311.4 329.8,311.0 329.5,311.0 329.2,310.7 328.9,310.5 328.6,311.5 328.3,309.7 328.0,310.7 327.7,310.4 327.4,310.8 327.1,309.4 326.8,309.5 326.5,310.5 326.2,311.1 325.9,311.8 325.6,310.9 325.3,310.8 325.0,310.7 324.7,310.5 324.4,311.3 324.1,311.5 323.8,311.1 323.5,310.9 323.2,312.3 322.9,312.8 322.6,312.4 322.3,311.1 322.0,311.9 321.7,312.6 321.4,312.0 321.1,311.6 320.8,311.6 320.5,312.6 320.2,311.9 319.9,311.2 319.6,311.0 319.3,312.1 319.0,312.2 318.7,311.4 318.4,310.4 318.1,310.4 317.8,309.8 317.5,309.7 317.2,310.1 316.9,310.1 316.6,310.5 316.3,309.4 316.0,309.2 315.7,309.6 315.4,309.8 315.1,308.6 314.8,308.6 314.5,310.1 314.2,309.3 313.9,310.1 313.6,308.8 313.3,309.1 313.0,309.7 312.7,309.8 312.4,310.1 312.1,310.2 311.8,309.5 311.5,309.9 311.2,309.9 310.9,309.8 310.6,310.5 310.3,310.7 310.0,309.6 309.7,310.4 309.4,310.7 309.1,310.6 308.8,308.9 308.5,309.3 308.2,310.2 307.9,309.0 307.6,309.0 307.3,309.2 307.0,308.8 306.7,308.7 306.4,309.5 306.1,309.8 305.8,308.8 305.5,309.3 305.2,309.0 304.9,309.6 304.6,309.9 304.3,310.2 304.0,310.2 303.7,310.3 303.4,309.5 303.1,310.8 302.8,310.5 302.5,309.1 302.2,310.8 301.9,309.6 301.6,310.3 301.3,310.0 301.0,310.0 300.7,311.4 300.4,310.3 300.1,310.1 299.8,309.8 299.5,309.6 299.2,310.6 298.9,310.9 298.6,310.2 298.3,309.4 298.0,310.7 297.7,309.3 297.4,310.6 297.1,308.9 296.8,309.5 296.5,308.9 296.2,308.6 295.9,309.1 295.6,309.3 295.3,308.7 295.0,308.0 294.7,309.0 294.4,307.8 294.1,307.7 293.8,309.5 293.5,309.1 293.2,308.1 292.9,308.0 292.6,307.4 292.3,308.4 292.0,308.7 291.7,307.0 291.4,307.0 291.1,306.8 290.8,307.0 290.5,307.9 290.2,308.6 289.9,307.0 289.6,307.1 289.3,308.5 289.0,307.5 288.7,306.7 288.4,307.1 288.1,307.9 287.8,306.8 287.5,308.6 287.2,308.3 286.9,308.5 286.6,308.1 286.3,307.2 286.0,308.6 285.7,308.1 285.4,307.2 285.1,307.0 284.8,307.9 284.5,307.6 284.2,308.6 283.9,307.3 283.6,308.6 283.3,307.8 283.0,307.3 282.7,307.5 282.4,308.2 282.1,307.2 281.8,308.2 281.5,307.5 281.2,307.7 280.9,307.8 280.6,307.5 280.3,306.4 280.0,307.4 279.7,306.6 279.4,307.7 279.1,306.7 278.8,307.9 278.5,305.9 278.2,306.2 277.9,306.8 277.6,306.1 277.3,306.0 277.0,307.9 276.7,307.2 276.4,307.7 276.1,307.8 275.8,306.4 275.5,307.5 275.2,306.2 274.9,307.4 274.6,307.2 274.3,307.5 274.0,308.1 273.7,307.7 273.4,307.5 273.1,307.2 272.8,307.0 272.5,307.9 272.2,307.1 271.9,306.9 271.6,306.8 271.3,306.6 271.0,307.1 270.7,307.1 270.4,307.1 270.1,307.8 269.8,308.1 269.5,307.1 269.2,308.1 268.9,307.2 268.6,306.9 268.3,307.9 268.0,307.9 267.7,307.9 267.4,308.3 267.1,306.7 266.8,307.6 266.5,306.4 266.2,308.4 265.9,307.2 265.6,307.0 265.3,307.6 265.0,307.2 264.7,308.1 264.4,306.9 264.1,307.7 263.8,307.9 263.5,307.8 263.2,307.8 262.9,307.7 262.6,308.4 262.3,308.9 262.0,308.6 261.7,308.6 261.4,307.8 261.1,309.4 260.8,308.3 260.5,308.0 260.2,307.7 259.9,308.4 259.6,309.1 259.3,309.2 259.0,307.6 258.7,307.7 258.4,309.3 258.1,308.0 257.8,307.5 257.5,309.0 257.2,307.7 256.9,308.9 256.6,307.5 256.3,307.9 256.0,307.4 255.7,307.2 255.4,307.7 255.1,308.1 254.8,307.0 254.5,307.0 254.2,306.9 253.9,308.1 253.6,307.7 253.3,306.5 253.0,307.6 252.7,307.1 252.4,306.6 252.1,306.5 251.8,306.2 251.5,307.0 251.2,306.4 250.9,307.0 250.6,306.7 250.3,307.3 250.0,307.3 249.7,307.9 249.4,307.9 249.1,307.2 248.8,307.0 248.5,307.6 248.2,307.6 247.9,307.9 247.6,307.3 247.3,307.4 247.0,307.0 246.7,307.0 246.4,308.0 246.1,306.6 245.8,306.6 245.5,308.0 245.2,307.7 244.9,306.2 244.6,307.6 244.3,306.8 244.0,307.4 243.7,306.5 243.4,307.1 243.1,306.5 242.8,306.0 242.5,307.8 242.2,305.8 241.9,306.4 241.6,307.1 241.3,306.2 241.0,305.3 240.7,305.3 240.4,306.3 240.1,305.4 239.8,305.8 239.5,305.0 239.2,306.2 238.9,304.9 238.6,306.6 238.3,304.6 238.0,305.5 237.7,306.3 237.4,305.9 237.1,306.2 236.8,305.7 236.5,306.2 236.2,305.1 235.9,305.1 235.6,305.8 235.3,305.1 235.0,306.1 234.7,305.5 234.4,305.6 234.1,305.2 233.8,306.8 233.5,306.3 233.2,306.1 232.9,305.8 232.6,304.8 232.3,305.8 232.0,306.0 231.7,304.7 231.4,306.1 231.1,304.5 230.8,305.7 230.5,304.8 230.2,306.0 229.9,304.9 229.6,306.1 229.3,306.1 229.0,306.0 228.7,305.2 228.4,306.3 228.1,305.0 227.8,305.4 227.5,306.1 227.2,305.5 226.9,306.7 226.6,306.4 226.3,306.7 226.0,306.0 225.7,305.4" fill="#0000ff" fill-opacity="0.85"/>
<polygon points="225.7,237.9 226.6,237.6 227.5,238.1 228.4,238.6 229.3,238.4 230.2,238.5 231.1,238.7 232.0,237.6 232.9,237.5 233.8,237.0 234.7,237.1 235.6,237.2 236.5,237.4 237.4,237.5 238.3,238.3 239.2,238.0 240.1,238.2 241.0,237.8 241.9,237.5 242.8,237.6 243.7,237.1 244.6,236.9 245.5,236.0 246.4,234.7 247.3,234.7 248.2,234.4 249.1,234.5 250.0,234.4 250.9,234.8 251.8,234.6 252.7,234.5 253.6,234.8 254.5,235.3 255.4,234.6 256.3,234.8 257.2,235.4 258.1,234.8 259.0,235.1 259.9,234.6 260.8,234.6 261.7,235.0 262.6,235.1 263.5,234.7 264.4,234.9 265.3,234.6 266.2,235.1 267.1,234.5 268.0,234.8 268.9,235.1 269.8,234.4 270.7,235.0 271.6,234.9 272.5,235.4 273.4,235.5 274.3,235.3 275.2,235.3 276.1,235.6 277.0,235.5 277.9,235.2 278.8,235.7 279.7,235.2 280.6,234.8 281.5,234.8 282.4,234.6 283.3,234.5 284.2,234.4 285.1,234.4 286.0,234.8 286.9,234.8 287.8,234.1 288.7,234.0 289.6,233.8 290.5,233.5 291.4,233.3 292.3,233.4 293.2,233.2 294.1,232.8 295.0,233.0 295.9,232.8 296.8,233.2 297.7,233.3 298.6,233.4 299.5,233.5 300.4,233.4 301.3,233.8 302.2,233.9 303.1,233.8 304.0,233.7 304.9,233.4 305.8,233.1 306.7,233.1 307.6,233.2 308.5,233.4 309.4,233.3 310.3,233.1 311.2,233.2 312.1,232.6 313.0,232.1 313.9,231.3 314.8,232.0 315.7,232.6 316.6,233.6 317.5,234.0 318.4,234.3 319.3,233.3 320.2,231.9 321.1,231.2 322.0,230.7 322.9,230.0 323.8,230.6 324.7,230.6 325.6,230.7 326.5,230.7 327.4,231.1 328.3,231.2 329.2,231.4 330.1,231.2 331.0,231.4 331.9,231.3 332.8,230.8 333.7,230.6 334.6,230.2 335.5,229.9 335.5,310.5 334.6,310.1 333.7,309.7 332.8,309.7 331.9,310.1 331.0,309.4 330.1,309.7 329.2,309.5 328.3,309.0 327.4,308.9 326.5,309.2 325.6,309.5 324.7,309.9 323.8,310.6 322.9,310.5 322.0,310.9 321.1,311.1 320.2,310.5 319.3,310.4 318.4,309.2 317.5,309.1 316.6,308.3 315.7,308.1 314.8,308.1 313.9,307.9 313.0,308.1 312.1,307.7 311.2,307.8 310.3,308.4 309.4,308.7 308.5,308.3 307.6,308.2 306.7,308.1 305.8,308.1 304.9,308.5 304.0,308.7 303.1,308.6 302.2,308.9 301.3,309.0 300.4,308.7 299.5,308.7 298.6,308.7 297.7,308.3 296.8,307.8 295.9,307.5 295.0,307.9 294.1,307.3 293.2,306.8 292.3,306.5 291.4,306.5 290.5,306.5 289.6,305.9 288.7,306.3 287.8,306.5 286.9,306.2 286.0,306.6 285.1,306.6 284.2,306.8 283.3,306.7 282.4,306.7 281.5,306.5 280.6,306.3 279.7,305.7 278.8,305.2 277.9,305.3 277.0,305.3 276.1,305.7 275.2,305.4 274.3,306.1 273.4,305.4 272.5,305.7 271.6,306.0 270.7,306.1 269.8,305.5 268.9,305.9 268.0,305.6 267.1,305.8 266.2,305.8 265.3,305.8 264.4,306.6 263.5,306.5 262.6,307.0 261.7,307.2 260.8,307.1 259.9,306.8 259.0,306.9 258.1,307.0 257.2,307.2 256.3,307.3 255.4,306.4 254.5,306.6 253.6,306.2 252.7,306.1 251.8,306.0 250.9,305.5 250.0,306.1 249.1,305.6 248.2,306.1 247.3,305.5 246.4,305.6 245.5,305.7 244.6,305.5 243.7,305.8 242.8,305.3 241.9,305.4 241.0,304.5 240.1,304.4 239.2,304.6 238.3,304.4 237.4,304.3 236.5,304.4 235.6,304.4 234.7,304.8 233.8,304.6 232.9,304.7 232.0,304.0 231.1,304.1 230.2,303.7 229.3,304.0 228.4,304.6 227.5,304.4 226.6,304.9 225.7,305.0" fill="#0000ff"/>
</g>
<path d="M335.9,231.4 Q339.4,282.4 335.9,309.3 Z" fill="#0000ff"/>
<text x="225.5" y="330.35" font-size="3.8" text-anchor="middle" fill="#161616" font-family="Liberation Sans, sans-serif">0</text>
<text x="238.3" y="330.35" font-size="3.8" text-anchor="middle" fill="#161616" font-family="Liberation Sans, sans-serif">0.5</text>
<text x="251.1" y="330.35" font-size="3.8" text-anchor="middle" fill="#161616" font-family="Liberation Sans, sans-serif">1</text>
<text x="263.9" y="330.35" font-size="3.8" text-anchor="middle" fill="#161616" font-family="Liberation Sans, sans-serif">1.5</text>
<text x="276.7" y="330.35" font-size="3.8" text-anchor="middle" fill="#161616" font-family="Liberation Sans, sans-serif">2</text>
<text x="289.4" y="330.35" font-size="3.8" text-anchor="middle" fill="#161616" font-family="Liberation Sans, sans-serif">2.5</text>
<text x="302.2" y="330.35" font-size="3.8" text-anchor="middle" fill="#161616" font-family="Liberation Sans, sans-serif">3</text>
<text x="315.0" y="330.35" font-size="3.8" text-anchor="middle" fill="#161616" font-family="Liberation Sans, sans-serif">3.5</text>
<text x="327.8" y="330.35" font-size="3.8" text-anchor="middle" fill="#161616" font-family="Liberation Sans, sans-serif">4</text>
<text x="340.6" y="330.35" font-size="3.8" text-anchor="middle" fill="#161616" font-family="Liberation Sans, sans-serif">4.5</text>
<text transform="translate(283.2,336.7) scale(0.8,1)" font-size="4.9" text-anchor="middle" fill="#2a2a2a" font-family="Liberation Sans, sans-serif">Time/s</text>
<text transform="translate(223.8,218.7) scale(0.92,1)" font-size="4.0" text-anchor="end" fill="#141414" font-family="Liberation Sans, sans-serif">50</text>
<text transform="translate(223.8,232.0) scale(0.92,1)" font-size="4.0" text-anchor="end" fill="#141414" font-family="Liberation Sans, sans-serif">40</text>
<text transform="translate(223.8,245.3) scale(0.92,1)" font-size="4.0" text-anchor="end" fill="#141414" font-family="Liberation Sans, sans-serif">30</text>
<text transform="translate(223.8,258.7) scale(0.92,1)" font-size="4.0" text-anchor="end" fill="#141414" font-family="Liberation Sans, sans-serif">20</text>
<text transform="translate(223.8,272.0) scale(0.92,1)" font-size="4.0" text-anchor="end" fill="#141414" font-family="Liberation Sans, sans-serif">10</text>
<text transform="translate(223.8,285.3) scale(0.92,1)" font-size="4.0" text-anchor="end" fill="#141414" font-family="Liberation Sans, sans-serif">0</text>
<text transform="translate(223.8,298.7) scale(0.92,1)" font-size="4.0" text-anchor="end" fill="#141414" font-family="Liberation Sans, sans-serif">-10</text>
<text transform="translate(223.8,312.0) scale(0.92,1)" font-size="4.0" text-anchor="end" fill="#141414" font-family="Liberation Sans, sans-serif">-20</text>
<text transform="translate(223.8,325.4) scale(0.92,1)" font-size="4.0" text-anchor="end" fill="#141414" font-family="Liberation Sans, sans-serif">-30</text>
<text transform="translate(216.3,271) rotate(-90) scale(1.2,1)" font-size="3.9" text-anchor="middle" fill="#262626" font-family="Liberation Sans, sans-serif">Cutting force/N</text>
<path d="M368.7,217.3 V324.4 M483.6,217.3 V324.4" stroke="#c4c4c4" stroke-width="0.5" fill="none"/>
<path d="M368.7,217.3 H483.6" stroke="#858585" stroke-width="0.6" fill="none"/>
<path d="M368.7,324.45 H483.6" stroke="#6a6a6a" stroke-width="0.6" fill="none"/>
<path d="M381.5,324.4 v-1.1 M381.5,217.3 v1.1 M394.2,324.4 v-1.1 M394.2,217.3 v1.1 M407.0,324.4 v-1.1 M407.0,217.3 v1.1 M419.8,324.4 v-1.1 M419.8,217.3 v1.1 M432.5,324.4 v-1.1 M432.5,217.3 v1.1 M445.3,324.4 v-1.1 M445.3,217.3 v1.1 M458.1,324.4 v-1.1 M458.1,217.3 v1.1 M470.8,324.4 v-1.1 M470.8,217.3 v1.1" stroke="#6a6a6a" stroke-width="0.4" fill="none"/>
<g filter="url(#bl)">
<polygon points="368.9,221.4 369.2,223.2 369.5,223.5 369.8,223.0 370.1,222.5 370.4,223.0 370.7,223.8 371.0,223.2 371.3,223.2 371.6,222.2 371.9,222.8 372.2,222.3 372.5,223.8 372.8,222.9 373.1,223.4 373.4,223.3 373.7,222.6 374.0,222.2 374.3,223.7 374.6,222.6 374.9,223.6 375.2,223.7 375.5,223.8 375.8,222.4 376.1,223.9 376.4,222.9 376.7,223.5 377.0,223.1 377.3,224.0 377.6,223.6 377.9,223.5 378.2,223.8 378.5,223.1 378.8,223.8 379.1,223.8 379.4,223.1 379.7,223.5 380.0,222.5 380.3,223.1 380.6,222.4 380.9,222.4 381.2,222.7 381.5,222.0 381.8,223.4 382.1,222.8 382.4,223.5 382.7,222.7 383.0,222.4 383.3,222.2 383.6,223.1 383.9,222.2 384.2,223.4 384.5,223.5 384.8,222.8 385.1,222.4 385.4,223.8 385.7,223.3 386.0,223.5 386.3,223.9 386.6,223.8 386.9,222.8 387.2,221.9 387.5,223.3 387.8,223.8 388.1,222.4 388.4,223.6 388.7,223.2 389.0,222.9 389.3,223.1 389.6,223.1 389.9,223.7 390.2,223.8 390.5,222.9 390.8,223.3 391.1,223.7 391.4,223.0 391.7,222.5 392.0,222.7 392.3,223.8 392.6,222.7 392.9,223.7 393.2,223.2 393.5,223.3 393.8,223.0 394.1,223.5 394.4,222.8 394.7,222.1 395.0,223.1 395.3,223.2 395.6,222.9 395.9,223.4 396.2,223.2 396.5,222.7 396.8,223.1 397.1,222.8 397.4,221.9 397.7,223.3 398.0,222.6 398.3,223.3 398.6,223.0 398.9,222.1 399.2,221.8 399.5,222.9 399.8,222.6 400.1,222.9 400.4,223.3 400.7,223.3 401.0,222.7 401.3,222.0 401.6,223.2 401.9,222.3 402.2,222.6 402.5,223.1 402.8,222.6 403.1,223.2 403.4,222.6 403.7,223.0 404.0,222.6 404.3,223.3 404.6,223.3 404.9,222.0 405.2,222.8 405.5,221.9 405.8,221.8 406.1,223.3 406.4,222.6 406.7,221.9 407.0,223.3 407.3,221.5 407.6,221.7 407.9,222.5 408.2,223.0 408.5,222.7 408.8,223.5 409.1,223.3 409.4,223.5 409.7,223.2 410.0,222.7 410.3,223.5 410.6,222.2 410.9,223.5 411.2,223.4 411.5,223.3 411.8,223.5 412.1,222.6 412.4,222.8 412.7,222.7 413.0,223.2 413.3,223.0 413.6,223.2 413.9,222.9 414.2,222.3 414.5,222.6 414.8,223.4 415.1,222.4 415.4,222.7 415.7,222.9 416.0,222.4 416.3,223.4 416.6,222.5 416.9,222.2 417.2,223.7 417.5,223.7 417.8,223.6 418.1,223.8 418.4,222.2 418.7,223.7 419.0,223.8 419.3,223.2 419.6,222.3 419.9,222.6 420.2,222.6 420.5,223.8 420.8,223.8 421.1,223.9 421.4,223.1 421.7,223.7 422.0,223.2 422.3,224.0 422.6,223.0 422.9,223.9 423.2,222.4 423.5,223.8 423.8,223.5 424.1,222.4 424.4,223.2 424.7,223.9 425.0,222.5 425.3,223.0 425.6,222.7 425.9,223.4 426.2,223.8 426.5,223.1 426.8,223.6 427.1,222.6 427.4,223.5 427.7,222.7 428.0,223.1 428.3,222.7 428.6,222.8 428.9,222.0 429.2,223.5 429.5,222.9 429.8,222.7 430.1,222.2 430.4,223.2 430.7,221.5 431.0,222.4 431.3,223.2 431.6,222.2 431.9,222.9 432.2,223.2 432.5,223.1 432.8,223.0 433.1,222.0 433.4,223.1 433.7,222.4 434.0,222.0 434.3,222.6 434.6,221.8 434.9,222.2 435.2,222.6 435.5,221.5 435.8,222.4 436.1,222.9 436.4,222.9 436.7,221.8 437.0,221.7 437.3,222.5 437.6,222.0 437.9,222.1 438.2,221.6 438.5,221.2 438.8,221.4 439.1,222.4 439.4,221.4 439.7,222.7 440.0,222.8 440.3,222.3 440.6,222.7 440.9,222.5 441.2,223.0 441.5,223.0 441.8,222.6 442.1,222.6 442.4,222.3 442.7,222.3 443.0,222.9 443.3,222.7 443.6,223.1 443.9,223.1 444.2,223.0 444.5,222.7 444.8,221.7 445.1,222.3 445.4,222.1 445.7,222.1 446.0,221.8 446.3,221.5 446.6,223.1 446.9,223.0 447.2,223.0 447.5,222.0 447.8,222.7 448.1,221.7 448.4,222.5 448.7,223.1 449.0,222.9 449.3,222.7 449.6,223.0 449.9,222.2 450.2,222.9 450.5,222.8 450.8,222.9 451.1,222.9 451.4,222.0 451.7,222.4 452.0,221.3 452.3,222.8 452.6,222.7 452.9,222.8 453.2,222.7 453.5,222.6 453.8,222.4 454.1,222.6 454.4,222.7 454.7,222.5 455.0,222.8 455.3,221.6 455.6,221.6 455.9,222.3 456.2,222.4 456.5,222.1 456.8,221.2 457.1,222.4 457.4,222.1 457.7,222.5 458.0,221.9 458.3,222.4 458.6,221.2 458.9,221.4 459.2,221.3 459.5,220.4 459.8,222.2 460.1,221.4 460.4,222.0 460.7,221.4 461.0,221.9 461.3,221.8 461.6,221.8 461.9,221.2 462.2,221.6 462.5,221.2 462.8,221.0 463.1,219.6 463.4,220.1 463.7,220.5 464.0,220.2 464.3,221.0 464.6,220.7 464.9,220.5 465.2,220.1 465.5,220.7 465.8,219.3 466.1,220.7 466.4,219.1 466.7,219.8 467.0,220.6 467.3,221.1 467.6,220.8 467.9,220.9 468.2,220.3 468.5,220.8 468.8,219.9 469.1,220.0 469.4,221.1 469.7,219.9 470.0,221.0 470.3,221.4 470.6,221.5 470.9,221.2 471.2,221.1 471.5,221.4 471.8,220.1 472.1,221.3 472.4,220.5 472.7,221.4 473.0,221.1 473.3,221.2 473.6,220.5 473.9,221.2 474.2,221.4 474.5,220.3 474.8,220.7 475.1,221.4 475.4,221.3 475.7,221.4 476.0,220.3 476.3,221.0 476.6,220.2 476.9,220.8 477.2,220.3 477.5,220.4 477.8,220.9 478.1,221.2 478.4,221.0 478.7,220.8 478.7,317.3 478.4,318.4 478.1,318.8 477.8,317.7 477.5,318.4 477.2,317.8 476.9,318.1 476.6,318.4 476.3,318.0 476.0,317.9 475.7,318.8 475.4,318.5 475.1,317.8 474.8,319.5 474.5,318.8 474.2,318.3 473.9,318.0 473.6,318.1 473.3,318.0 473.0,318.6 472.7,317.8 472.4,318.2 472.1,317.6 471.8,318.5 471.5,318.0 471.2,318.5 470.9,318.5 470.6,317.4 470.3,317.5 470.0,317.7 469.7,318.2 469.4,318.1 469.1,317.8 468.8,317.3 468.5,317.7 468.2,317.3 467.9,317.6 467.6,318.4 467.3,318.3 467.0,317.6 466.7,317.7 466.4,316.9 466.1,317.2 465.8,317.4 465.5,316.8 465.2,317.2 464.9,316.7 464.6,316.8 464.3,316.8 464.0,316.7 463.7,316.9 463.4,317.0 463.1,317.8 462.8,318.3 462.5,318.1 462.2,317.8 461.9,317.6 461.6,317.4 461.3,317.5 461.0,317.7 460.7,316.7 460.4,316.5 460.1,317.2 459.8,316.6 459.5,317.4 459.2,316.7 458.9,316.4 458.6,316.4 458.3,316.2 458.0,316.2 457.7,316.7 457.4,316.0 457.1,316.8 456.8,316.3 456.5,316.7 456.2,316.2 455.9,315.9 455.6,316.2 455.3,316.2 455.0,316.3 454.7,316.3 454.4,316.6 454.1,316.6 453.8,316.5 453.5,316.9 453.2,316.2 452.9,316.5 452.6,316.8 452.3,316.3 452.0,316.9 451.7,316.3 451.4,316.3 451.1,316.5 450.8,316.6 450.5,316.4 450.2,316.3 449.9,316.2 449.6,316.2 449.3,317.2 449.0,316.2 448.7,316.9 448.4,316.1 448.1,316.0 447.8,316.9 447.5,315.9 447.2,316.1 446.9,315.8 446.6,316.5 446.3,316.3 446.0,317.0 445.7,316.2 445.4,315.6 445.1,316.4 444.8,315.5 444.5,315.4 444.2,316.3 443.9,315.7 443.6,315.4 443.3,316.0 443.0,316.4 442.7,316.5 442.4,316.5 442.1,315.4 441.8,316.0 441.5,316.0 441.2,315.4 440.9,316.1 440.6,315.7 440.3,315.7 440.0,316.2 439.7,315.8 439.4,315.7 439.1,315.5 438.8,315.8 438.5,316.5 438.2,316.2 437.9,316.2 437.6,317.0 437.3,315.9 437.0,316.8 436.7,315.9 436.4,316.4 436.1,316.1 435.8,316.6 435.5,315.8 435.2,316.1 434.9,316.6 434.6,316.4 434.3,317.0 434.0,316.5 433.7,316.3 433.4,315.7 433.1,316.7 432.8,316.5 432.5,316.0 432.2,317.1 431.9,316.8 431.6,316.7 431.3,315.6 431.0,316.4 430.7,316.6 430.4,315.9 430.1,316.5 429.8,316.3 429.5,316.3 429.2,316.8 428.9,316.3 428.6,316.0 428.3,315.8 428.0,316.3 427.7,316.7 427.4,316.2 427.1,316.4 426.8,317.3 426.5,316.1 426.2,316.2 425.9,317.2 425.6,316.7 425.3,316.5 425.0,316.6 424.7,317.2 424.4,316.1 424.1,316.4 423.8,317.4 423.5,316.5 423.2,316.7 422.9,316.2 422.6,316.2 422.3,317.5 422.0,317.1 421.7,316.4 421.4,317.5 421.1,316.4 420.8,317.3 420.5,317.3 420.2,317.6 419.9,318.1 419.6,316.8 419.3,316.4 419.0,316.9 418.7,317.1 418.4,317.8 418.1,317.3 417.8,316.5 417.5,316.6 417.2,316.9 416.9,316.7 416.6,316.9 416.3,316.9 416.0,317.6 415.7,316.9 415.4,317.4 415.1,317.1 414.8,316.9 414.5,317.6 414.2,316.3 413.9,316.5 413.6,316.4 413.3,316.8 413.0,316.4 412.7,316.6 412.4,316.9 412.1,317.3 411.8,317.6 411.5,316.3 411.2,317.4 410.9,317.2 410.6,316.8 410.3,316.8 410.0,316.8 409.7,316.1 409.4,316.2 409.1,316.6 408.8,316.5 408.5,316.2 408.2,316.3 407.9,316.1 407.6,316.5 407.3,316.7 407.0,317.4 406.7,316.6 406.4,316.5 406.1,316.5 405.8,317.3 405.5,317.7 405.2,317.5 404.9,316.6 404.6,317.6 404.3,317.5 404.0,318.2 403.7,316.5 403.4,316.6 403.1,317.0 402.8,316.8 402.5,316.5 402.2,317.7 401.9,317.6 401.6,317.2 401.3,316.5 401.0,316.8 400.7,317.2 400.4,317.9 400.1,316.9 399.8,317.4 399.5,317.2 399.2,317.9 398.9,317.0 398.6,317.8 398.3,316.7 398.0,317.8 397.7,316.8 397.4,316.9 397.1,317.6 396.8,316.9 396.5,318.1 396.2,317.1 395.9,317.0 395.6,317.3 395.3,318.4 395.0,318.1 394.7,317.6 394.4,317.1 394.1,317.3 393.8,317.1 393.5,318.3 393.2,317.3 392.9,318.1 392.6,318.0 392.3,317.4 392.0,318.3 391.7,318.3 391.4,318.1 391.1,318.0 390.8,317.5 390.5,317.3 390.2,317.7 389.9,317.1 389.6,318.0 389.3,318.0 389.0,318.0 388.7,317.7 388.4,317.0 388.1,317.1 387.8,316.7 387.5,316.1 387.2,316.4 386.9,317.2 386.6,316.7 386.3,316.7 386.0,316.9 385.7,316.8 385.4,318.2 385.1,318.7 384.8,318.1 384.5,317.8 384.2,317.2 383.9,318.0 383.6,317.9 383.3,317.3 383.0,317.2 382.7,318.5 382.4,317.9 382.1,317.8 381.8,318.3 381.5,317.3 381.2,318.5 380.9,317.7 380.6,318.1 380.3,318.2 380.0,318.0 379.7,317.3 379.4,318.0 379.1,317.1 378.8,317.2 378.5,317.8 378.2,318.0 377.9,317.0 377.6,317.0 377.3,317.2 377.0,316.9 376.7,317.8 376.4,317.3 376.1,318.3 375.8,317.6 375.5,317.5 375.2,318.1 374.9,318.5 374.6,317.0 374.3,317.1 374.0,317.0 373.7,317.1 373.4,317.6 373.1,317.2 372.8,317.0 372.5,318.6 372.2,317.8 371.9,318.1 371.6,316.9 371.3,317.5 371.0,317.7 370.7,318.5 370.4,317.0 370.1,317.4 369.8,316.7 369.5,317.9 369.2,317.0 368.9,316.8" fill="#0000ff" fill-opacity="0.6"/>
<polygon points="368.9,223.9 369.2,223.2 369.5,223.4 369.8,223.9 370.1,223.8 370.4,223.3 370.7,223.8 371.0,223.5 371.3,223.7 371.6,223.6 371.9,223.5 372.2,223.5 372.5,223.1 372.8,223.4 373.1,223.0 373.4,223.4 373.7,223.4 374.0,223.6 374.3,223.5 374.6,223.0 374.9,223.5 375.2,223.8 375.5,223.8 375.8,223.4 376.1,223.5 376.4,223.6 376.7,223.5 377.0,223.9 377.3,224.0 377.6,223.9 377.9,223.8 378.2,223.4 378.5,223.3 378.8,223.5 379.1,223.3 379.4,223.2 379.7,223.5 380.0,223.3 380.3,223.1 380.6,222.9 380.9,223.0 381.2,223.3 381.5,223.5 381.8,223.4 382.1,223.1 382.4,223.4 382.7,223.0 383.0,223.4 383.3,223.3 383.6,223.4 383.9,222.9 384.2,223.4 384.5,223.2 384.8,223.0 385.1,223.2 385.4,223.3 385.7,223.2 386.0,223.6 386.3,223.7 386.6,223.8 386.9,223.9 387.2,223.9 387.5,223.2 387.8,223.2 388.1,223.3 388.4,223.8 388.7,223.9 389.0,223.4 389.3,223.6 389.6,223.5 389.9,223.7 390.2,223.5 390.5,223.4 390.8,223.6 391.1,223.7 391.4,223.6 391.7,223.9 392.0,223.6 392.3,223.5 392.6,223.6 392.9,223.2 393.2,223.1 393.5,223.4 393.8,223.0 394.1,223.2 394.4,223.3 394.7,223.5 395.0,223.2 395.3,222.7 395.6,222.8 395.9,222.6 396.2,222.8 396.5,222.9 396.8,223.3 397.1,223.3 397.4,222.7 397.7,223.3 398.0,223.3 398.3,222.6 398.6,223.0 398.9,223.3 399.2,223.2 399.5,223.2 399.8,223.0 400.1,223.3 400.4,222.9 400.7,223.1 401.0,223.3 401.3,223.0 401.6,222.9 401.9,223.1 402.2,223.1 402.5,223.1 402.8,222.6 403.1,222.6 403.4,223.1 403.7,222.8 404.0,222.7 404.3,222.8 404.6,222.8 404.9,223.3 405.2,222.7 405.5,223.4 405.8,222.6 406.1,223.3 406.4,223.3 406.7,223.1 407.0,223.2 407.3,223.4 407.6,223.4 407.9,222.7 408.2,223.4 408.5,223.5 408.8,223.3 409.1,223.2 409.4,223.5 409.7,223.0 410.0,223.2 410.3,222.9 410.6,223.4 410.9,223.5 411.2,223.2 411.5,222.8 411.8,223.6 412.1,223.0 412.4,223.3 412.7,223.1 413.0,223.4 413.3,223.0 413.6,223.2 413.9,223.4 414.2,223.4 414.5,223.2 414.8,223.5 415.1,223.5 415.4,222.9 415.7,223.5 416.0,223.2 416.3,223.6 416.6,223.6 416.9,223.2 417.2,223.5 417.5,223.4 417.8,223.6 418.1,223.1 418.4,223.3 418.7,223.7 419.0,223.6 419.3,223.7 419.6,223.3 419.9,223.4 420.2,223.7 420.5,223.5 420.8,223.4 421.1,223.8 421.4,223.7 421.7,223.7 422.0,223.6 422.3,224.0 422.6,223.8 422.9,223.8 423.2,223.9 423.5,223.7 423.8,223.8 424.1,223.4 424.4,223.9 424.7,223.3 425.0,223.2 425.3,223.1 425.6,223.8 425.9,223.8 426.2,223.1 426.5,223.8 426.8,223.7 427.1,223.6 427.4,223.3 427.7,223.1 428.0,223.6 428.3,223.4 428.6,223.3 428.9,222.8 429.2,223.1 429.5,223.2 429.8,223.2 430.1,223.2 430.4,223.2 430.7,222.8 431.0,223.2 431.3,222.9 431.6,222.7 431.9,222.9 432.2,223.0 432.5,222.8 432.8,223.2 433.1,223.2 433.4,223.1 433.7,223.0 434.0,222.9 434.3,222.9 434.6,222.9 434.9,222.6 435.2,222.4 435.5,222.5 435.8,222.5 436.1,223.0 436.4,222.8 436.7,222.7 437.0,222.5 437.3,222.6 437.6,222.4 437.9,222.3 438.2,222.4 438.5,222.7 438.8,222.1 439.1,222.1 439.4,222.5 439.7,222.3 440.0,222.8 440.3,222.5 440.6,222.5 440.9,222.2 441.2,222.5 441.5,223.0 441.8,222.7 442.1,222.4 442.4,223.1 442.7,222.7 443.0,223.0 443.3,223.0 443.6,222.6 443.9,222.6 444.2,223.0 444.5,222.8 444.8,223.1 445.1,222.8 445.4,223.1 445.7,222.6 446.0,223.1 446.3,223.2 446.6,223.2 446.9,222.5 447.2,222.6 447.5,222.7 447.8,222.4 448.1,222.6 448.4,223.1 448.7,223.0 449.0,223.0 449.3,223.0 449.6,222.9 449.9,222.8 450.2,222.8 450.5,222.5 450.8,222.6 451.1,222.3 451.4,222.6 451.7,222.1 452.0,222.3 452.3,222.8 452.6,222.5 452.9,222.6 453.2,222.2 453.5,222.8 453.8,222.1 454.1,222.3 454.4,222.1 454.7,222.6 455.0,222.0 455.3,222.7 455.6,222.2 455.9,222.7 456.2,222.1 456.5,222.6 456.8,222.3 457.1,222.5 457.4,222.2 457.7,222.3 458.0,222.4 458.3,222.4 458.6,221.7 458.9,222.0 459.2,222.1 459.5,221.7 459.8,221.7 460.1,221.5 460.4,221.5 460.7,221.4 461.0,221.4 461.3,221.4 461.6,221.2 461.9,221.0 462.2,221.5 462.5,221.2 462.8,221.1 463.1,220.8 463.4,221.1 463.7,220.7 464.0,220.8 464.3,220.9 464.6,220.8 464.9,220.1 465.2,220.7 465.5,220.7 465.8,220.6 466.1,220.8 466.4,220.7 466.7,220.3 467.0,220.7 467.3,220.7 467.6,220.7 467.9,220.5 468.2,220.7 468.5,220.7 468.8,221.1 469.1,221.0 469.4,221.4 469.7,221.4 470.0,221.1 470.3,220.8 470.6,221.2 470.9,221.4 471.2,220.9 471.5,221.2 471.8,221.3 472.1,220.8 472.4,221.1 472.7,220.7 473.0,220.7 473.3,221.5 473.6,220.9 473.9,221.1 474.2,221.5 474.5,221.0 474.8,221.2 475.1,221.0 475.4,221.4 475.7,221.4 476.0,220.9 476.3,221.0 476.6,221.3 476.9,220.9 477.2,220.9 477.5,220.9 477.8,220.8 478.1,221.2 478.4,220.5 478.7,221.2 478.7,317.2 478.4,317.2 478.1,317.6 477.8,317.8 477.5,317.6 477.2,317.4 476.9,317.9 476.6,317.6 476.3,317.6 476.0,318.0 475.7,317.6 475.4,318.0 475.1,317.8 474.8,318.2 474.5,317.9 474.2,317.8 473.9,318.0 473.6,318.3 473.3,317.9 473.0,318.1 472.7,318.2 472.4,317.6 472.1,317.7 471.8,318.2 471.5,317.9 471.2,317.6 470.9,317.7 470.6,317.4 470.3,318.0 470.0,318.0 469.7,317.4 469.4,317.9 469.1,317.3 468.8,317.2 468.5,317.6 468.2,317.4 467.9,317.4 467.6,317.7 467.3,317.1 467.0,317.0 466.7,317.4 466.4,317.1 466.1,317.0 465.8,316.7 465.5,316.7 465.2,317.0 464.9,317.0 464.6,317.1 464.3,317.2 464.0,317.0 463.7,317.1 463.4,316.8 463.1,316.7 462.8,317.1 462.5,317.0 462.2,317.2 461.9,316.9 461.6,317.3 461.3,316.7 461.0,316.8 460.7,316.6 460.4,317.0 460.1,317.0 459.8,316.6 459.5,317.0 459.2,316.4 458.9,316.6 458.6,316.8 458.3,316.3 458.0,316.4 457.7,316.3 457.4,316.1 457.1,316.1 456.8,315.8 456.5,316.3 456.2,316.3 455.9,316.2 455.6,315.9 455.3,316.4 455.0,316.3 454.7,316.3 454.4,316.0 454.1,316.2 453.8,316.2 453.5,316.7 453.2,316.8 452.9,316.1 452.6,316.5 452.3,316.1 452.0,316.7 451.7,316.7 451.4,316.6 451.1,316.2 450.8,316.3 450.5,316.2 450.2,316.6 449.9,316.6 449.6,316.3 449.3,316.5 449.0,316.1 448.7,316.3 448.4,316.4 448.1,316.0 447.8,316.6 447.5,316.3 447.2,316.5 446.9,315.9 446.6,316.4 446.3,315.7 446.0,316.1 445.7,316.0 445.4,315.7 445.1,315.5 444.8,315.5 444.5,315.9 444.2,315.4 443.9,315.6 443.6,315.6 443.3,315.8 443.0,315.4 442.7,315.8 442.4,315.3 442.1,315.6 441.8,315.4 441.5,315.9 441.2,315.9 440.9,315.7 440.6,316.1 440.3,316.0 440.0,316.1 439.7,315.5 439.4,315.6 439.1,315.6 438.8,315.7 438.5,316.2 438.2,315.7 437.9,315.9 437.6,315.9 437.3,316.0 437.0,315.9 436.7,316.0 436.4,315.7 436.1,315.7 435.8,315.9 435.5,315.8 435.2,316.0 434.9,316.0 434.6,315.9 434.3,316.0 434.0,316.0 433.7,315.7 433.4,316.2 433.1,315.8 432.8,316.0 432.5,315.7 432.2,316.3 431.9,315.7 431.6,316.0 431.3,316.1 431.0,315.7 430.7,315.7 430.4,316.2 430.1,316.0 429.8,315.7 429.5,316.0 429.2,315.7 428.9,315.8 428.6,315.8 428.3,315.9 428.0,316.0 427.7,315.9 427.4,315.9 427.1,316.0 426.8,316.0 426.5,316.1 426.2,316.4 425.9,316.3 425.6,316.1 425.3,316.1 425.0,316.2 424.7,316.2 424.4,316.2 424.1,316.5 423.8,316.8 423.5,316.7 423.2,316.3 422.9,316.3 422.6,316.9 422.3,316.2 422.0,316.3 421.7,316.8 421.4,316.5 421.1,316.6 420.8,316.4 420.5,316.8 420.2,316.9 419.9,316.5 419.6,316.5 419.3,316.8 419.0,317.0 418.7,316.8 418.4,316.4 418.1,316.9 417.8,316.9 417.5,316.6 417.2,316.8 416.9,316.7 416.6,316.6 416.3,316.9 416.0,316.4 415.7,316.4 415.4,316.8 415.1,316.9 414.8,316.6 414.5,316.6 414.2,316.6 413.9,316.8 413.6,317.0 413.3,316.4 413.0,316.7 412.7,316.4 412.4,316.7 412.1,316.8 411.8,316.9 411.5,316.2 411.2,316.4 410.9,316.3 410.6,316.2 410.3,316.3 410.0,316.2 409.7,316.2 409.4,316.4 409.1,316.2 408.8,316.4 408.5,316.4 408.2,316.4 407.9,316.4 407.6,316.6 407.3,316.4 407.0,316.3 406.7,316.3 406.4,316.6 406.1,316.4 405.8,316.7 405.5,316.4 405.2,317.0 404.9,316.5 404.6,317.0 404.3,316.6 404.0,316.6 403.7,316.9 403.4,317.1 403.1,316.5 402.8,316.6 402.5,317.0 402.2,316.6 401.9,317.0 401.6,316.5 401.3,316.7 401.0,317.1 400.7,316.8 400.4,316.7 400.1,316.5 399.8,316.9 399.5,316.5 399.2,316.5 398.9,316.8 398.6,316.6 398.3,316.6 398.0,316.7 397.7,317.2 397.4,316.8 397.1,316.9 396.8,317.3 396.5,317.2 396.2,317.4 395.9,317.4 395.6,317.3 395.3,317.5 395.0,317.2 394.7,317.2 394.4,317.4 394.1,317.8 393.8,317.4 393.5,317.8 393.2,317.4 392.9,317.5 392.6,317.7 392.3,317.7 392.0,317.6 391.7,317.4 391.4,317.9 391.1,317.8 390.8,317.9 390.5,317.3 390.2,317.4 389.9,317.3 389.6,317.2 389.3,316.9 389.0,316.9 388.7,316.7 388.4,316.6 388.1,316.6 387.8,316.5 387.5,316.3 387.2,316.6 386.9,316.8 386.6,316.3 386.3,316.5 386.0,316.8 385.7,317.3 385.4,317.1 385.1,317.3 384.8,317.0 384.5,317.6 384.2,317.6 383.9,317.6 383.6,317.3 383.3,317.3 383.0,317.7 382.7,317.4 382.4,317.5 382.1,317.3 381.8,317.8 381.5,317.7 381.2,317.7 380.9,317.4 380.6,317.4 380.3,317.5 380.0,317.4 379.7,317.3 379.4,317.7 379.1,317.3 378.8,317.5 378.5,317.1 378.2,317.1 377.9,317.0 377.6,317.0 377.3,317.1 377.0,317.0 376.7,317.5 376.4,317.0 376.1,317.3 375.8,317.0 375.5,317.0 375.2,317.4 374.9,317.6 374.6,317.4 374.3,317.0 374.0,317.1 373.7,317.3 373.4,317.5 373.1,317.0 372.8,317.1 372.5,317.2 372.2,317.2 371.9,316.8 371.6,316.8 371.3,317.2 371.0,316.8 370.7,317.2 370.4,317.0 370.1,317.0 369.8,317.3 369.5,317.3 369.2,317.1 368.9,316.7" fill="#0000ff" fill-opacity="0.85"/>
<polygon points="368.9,224.6 369.8,224.0 370.7,224.0 371.6,223.9 372.5,223.9 373.4,224.2 374.3,224.0 375.2,223.9 376.1,224.4 377.0,224.5 377.9,224.4 378.8,224.4 379.7,224.3 380.6,223.8 381.5,223.6 382.4,223.8 383.3,223.6 384.2,224.0 385.1,224.4 386.0,223.9 386.9,224.5 387.8,224.4 388.7,224.6 389.6,224.4 390.5,224.5 391.4,224.5 392.3,224.3 393.2,223.8 394.1,224.3 395.0,223.8 395.9,223.6 396.8,224.0 397.7,223.8 398.6,223.6 399.5,223.9 400.4,223.7 401.3,223.8 402.2,224.0 403.1,223.3 404.0,223.9 404.9,224.1 405.8,224.1 406.7,224.2 407.6,223.8 408.5,223.7 409.4,223.8 410.3,223.6 411.2,224.1 412.1,223.7 413.0,224.3 413.9,224.4 414.8,224.0 415.7,224.3 416.6,223.9 417.5,224.5 418.4,224.5 419.3,224.4 420.2,224.3 421.1,224.0 422.0,224.8 422.9,224.0 423.8,224.7 424.7,224.3 425.6,224.7 426.5,224.1 427.4,224.0 428.3,224.1 429.2,224.1 430.1,223.9 431.0,223.4 431.9,223.4 432.8,223.5 433.7,223.4 434.6,223.6 435.5,223.8 436.4,223.5 437.3,223.4 438.2,222.9 439.1,223.0 440.0,223.5 440.9,223.6 441.8,223.2 442.7,223.7 443.6,224.0 444.5,224.0 445.4,223.6 446.3,223.5 447.2,223.2 448.1,223.3 449.0,223.1 449.9,223.4 450.8,223.1 451.7,223.6 452.6,222.9 453.5,222.8 454.4,223.5 455.3,223.3 456.2,223.2 457.1,223.2 458.0,222.6 458.9,222.4 459.8,222.5 460.7,222.4 461.6,222.2 462.5,222.1 463.4,221.7 464.3,221.4 465.2,221.5 466.1,221.3 467.0,221.1 467.9,221.6 468.8,221.6 469.7,221.7 470.6,221.6 471.5,222.0 472.4,221.7 473.3,221.6 474.2,222.0 475.1,222.1 476.0,222.1 476.9,221.5 477.8,221.3 478.7,221.7 478.7,316.7 477.8,317.0 476.9,316.8 476.0,317.0 475.1,317.5 474.2,317.6 473.3,317.1 472.4,317.0 471.5,316.8 470.6,316.6 469.7,316.9 468.8,316.8 467.9,316.5 467.0,316.4 466.1,316.6 465.2,316.0 464.3,316.4 463.4,316.5 462.5,315.8 461.6,315.8 460.7,316.1 459.8,315.8 458.9,316.2 458.0,315.5 457.1,315.6 456.2,315.0 455.3,315.3 454.4,315.9 453.5,316.0 452.6,315.4 451.7,315.5 450.8,315.8 449.9,315.6 449.0,315.8 448.1,315.6 447.2,315.1 446.3,315.0 445.4,315.2 444.5,315.2 443.6,315.1 442.7,314.9 441.8,315.2 440.9,315.3 440.0,315.1 439.1,315.5 438.2,314.9 437.3,315.2 436.4,315.3 435.5,315.3 434.6,315.3 433.7,314.9 432.8,315.4 431.9,315.6 431.0,314.9 430.1,315.1 429.2,315.3 428.3,315.8 427.4,315.7 426.5,315.8 425.6,315.8 424.7,315.6 423.8,315.7 422.9,316.1 422.0,315.8 421.1,316.1 420.2,315.9 419.3,315.9 418.4,316.2 417.5,315.8 416.6,316.2 415.7,315.7 414.8,316.1 413.9,316.0 413.0,316.0 412.1,315.7 411.2,315.9 410.3,316.1 409.4,315.3 408.5,315.5 407.6,315.5 406.7,315.9 405.8,315.8 404.9,315.9 404.0,315.8 403.1,316.1 402.2,316.3 401.3,316.3 400.4,316.4 399.5,316.2 398.6,316.6 397.7,316.6 396.8,316.1 395.9,316.2 395.0,316.3 394.1,316.4 393.2,316.4 392.3,316.9 391.4,317.1 390.5,317.1 389.6,316.5 388.7,316.3 387.8,315.4 386.9,315.4 386.0,316.4 385.1,316.9 384.2,316.9 383.3,317.1 382.4,316.8 381.5,317.1 380.6,316.5 379.7,316.7 378.8,316.5 377.9,316.5 377.0,316.8 376.1,316.6 375.2,316.8 374.3,316.3 373.4,316.4 372.5,316.3 371.6,316.1 370.7,316.5 369.8,316.5 368.9,315.9" fill="#0000ff"/>
</g>
<path d="M478.2,222.3 Q481.3,281.3 478.2,316.3 Z" fill="#0000ff"/>
<text x="368.7" y="330.35" font-size="3.8" text-anchor="middle" fill="#161616" font-family="Liberation Sans, sans-serif">0</text>
<text x="381.5" y="330.35" font-size="3.8" text-anchor="middle" fill="#161616" font-family="Liberation Sans, sans-serif">0.5</text>
<text x="394.2" y="330.35" font-size="3.8" text-anchor="middle" fill="#161616" font-family="Liberation Sans, sans-serif">1</text>
<text x="407.0" y="330.35" font-size="3.8" text-anchor="middle" fill="#161616" font-family="Liberation Sans, sans-serif">1.5</text>
<text x="419.8" y="330.35" font-size="3.8" text-anchor="middle" fill="#161616" font-family="Liberation Sans, sans-serif">2</text>
<text x="432.5" y="330.35" font-size="3.8" text-anchor="middle" fill="#161616" font-family="Liberation Sans, sans-serif">2.5</text>
<text x="445.3" y="330.35" font-size="3.8" text-anchor="middle" fill="#161616" font-family="Liberation Sans, sans-serif">3</text>
<text x="458.1" y="330.35" font-size="3.8" text-anchor="middle" fill="#161616" font-family="Liberation Sans, sans-serif">3.5</text>
<text x="470.8" y="330.35" font-size="3.8" text-anchor="middle" fill="#161616" font-family="Liberation Sans, sans-serif">4</text>
<text x="483.6" y="330.35" font-size="3.8" text-anchor="middle" fill="#161616" font-family="Liberation Sans, sans-serif">4.5</text>
<text transform="translate(426.3,336.7) scale(0.8,1)" font-size="4.9" text-anchor="middle" fill="#2a2a2a" font-family="Liberation Sans, sans-serif">Time/s</text>
<text transform="translate(367.0,218.7) scale(0.92,1)" font-size="4.0" text-anchor="end" fill="#141414" font-family="Liberation Sans, sans-serif">120</text>
<text transform="translate(367.0,229.3) scale(0.92,1)" font-size="4.0" text-anchor="end" fill="#141414" font-family="Liberation Sans, sans-serif">100</text>
<text transform="translate(367.0,240.0) scale(0.92,1)" font-size="4.0" text-anchor="end" fill="#141414" font-family="Liberation Sans, sans-serif">80</text>
<text transform="translate(367.0,250.7) scale(0.92,1)" font-size="4.0" text-anchor="end" fill="#141414" font-family="Liberation Sans, sans-serif">60</text>
<text transform="translate(367.0,261.3) scale(0.92,1)" font-size="4.0" text-anchor="end" fill="#141414" font-family="Liberation Sans, sans-serif">40</text>
<text transform="translate(367.0,272.0) scale(0.92,1)" font-size="4.0" text-anchor="end" fill="#141414" font-family="Liberation Sans, sans-serif">20</text>
<text transform="translate(367.0,282.7) scale(0.92,1)" font-size="4.0" text-anchor="end" fill="#141414" font-family="Liberation Sans, sans-serif">0</text>
<text transform="translate(367.0,293.3) scale(0.92,1)" font-size="4.0" text-anchor="end" fill="#141414" font-family="Liberation Sans, sans-serif">-20</text>
<text transform="translate(367.0,304.0) scale(0.92,1)" font-size="4.0" text-anchor="end" fill="#141414" font-family="Liberation Sans, sans-serif">-40</text>
<text transform="translate(367.0,314.7) scale(0.92,1)" font-size="4.0" text-anchor="end" fill="#141414" font-family="Liberation Sans, sans-serif">-60</text>
<text transform="translate(367.0,325.4) scale(0.92,1)" font-size="4.0" text-anchor="end" fill="#141414" font-family="Liberation Sans, sans-serif">-80</text>
<text transform="translate(359.5,271) rotate(-90) scale(1.2,1)" font-size="3.9" text-anchor="middle" fill="#262626" font-family="Liberation Sans, sans-serif">Cutting force/N</text>
<path d="M83.6,323.8 V151.9 H103.4 V323.8 Z" stroke="#ffc000" stroke-width="1.45" fill="none" stroke-dasharray="5.7 4.1"/>
<path d="M178.4,323.8 V151.9 H198.0 V323.8 Z" stroke="#ffc000" stroke-width="1.45" fill="none" stroke-dasharray="5.7 4.1"/>
<path d="M225.6,323.8 V151.9 H245.4 V323.8 Z" stroke="#ffc000" stroke-width="1.45" fill="none" stroke-dasharray="5.7 4.1"/>
<path d="M320.4,323.8 V151.9 H340.2 V323.8 Z" stroke="#ffc000" stroke-width="1.45" fill="none" stroke-dasharray="5.7 4.1"/>
<path d="M368.7,323.8 V151.9 H389.1 V323.8 Z" stroke="#ffc000" stroke-width="1.45" fill="none" stroke-dasharray="5.7 4.1"/>
<path d="M464.0,323.8 V151.9 H483.4 V323.8 Z" stroke="#ffc000" stroke-width="1.45" fill="none" stroke-dasharray="5.7 4.1"/>
<rect x="80.1" y="123.4" width="122.3" height="8.9" stroke="#ff0000" stroke-width="1.55" fill="none"/>
<rect x="222.4" y="105.7" width="120.8" height="8.9" stroke="#ff0000" stroke-width="1.55" fill="none"/>
<rect x="366.0" y="105.7" width="121.3" height="17.6" stroke="#ff0000" stroke-width="1.55" fill="none"/>
<line x1="270.2" y1="38.6" x2="126.5" y2="117.8" stroke="#ff0000" stroke-width="1.55" marker-end="url(#ar)"/>
<line x1="270.2" y1="38.3" x2="271.1" y2="100.5" stroke="#ff0000" stroke-width="1.55" marker-end="url(#ar)"/>
<line x1="270.2" y1="38.6" x2="414.3" y2="99.3" stroke="#ff0000" stroke-width="1.55" marker-end="url(#ar)"/>
<text transform="translate(279.5,33.3) scale(0.97,1)" font-size="16" text-anchor="middle" fill="#000" font-family="Liberation Serif, serif" font-weight="bold">High-energy distribution</text>
<text transform="translate(139.8,353.2) scale(0.97,1)" font-size="16" text-anchor="middle" fill="#000" font-family="Liberation Serif, serif" font-weight="bold">Initial Wear</text>
<text transform="translate(281.1,353.2) scale(0.97,1)" font-size="16" text-anchor="middle" fill="#000" font-family="Liberation Serif, serif" font-weight="bold">Normal Wear</text>
<text transform="translate(429.8,353.2) scale(0.97,1)" font-size="16" text-anchor="middle" fill="#000" font-family="Liberation Serif, serif" font-weight="bold">Severe Wear</text>
<text transform="translate(135.3,257.8) scale(0.935,1)" font-size="9.5" text-anchor="middle" fill="#000" font-family="Liberation Serif, serif" font-weight="bold">Cut Out</text>
<text transform="translate(141.6,294.6) scale(0.935,1)" font-size="9.5" text-anchor="middle" fill="#000" font-family="Liberation Serif, serif" font-weight="bold">Cut Into</text>
<line x1="150.9" y1="258.1" x2="172.7" y2="272.2" stroke="#000" stroke-width="1.05" marker-end="url(#ab)"/>
<line x1="125.2" y1="288.4" x2="105.1" y2="271.9" stroke="#000" stroke-width="1.05" marker-end="url(#ab)"/>
<text transform="translate(276.9,257.8) scale(0.935,1)" font-size="9.5" text-anchor="middle" fill="#000" font-family="Liberation Serif, serif" font-weight="bold">Cut Out</text>
<text transform="translate(283.7,294.6) scale(0.935,1)" font-size="9.5" text-anchor="middle" fill="#000" font-family="Liberation Serif, serif" font-weight="bold">Cut Into</text>
<line x1="292.6" y1="258.1" x2="314.6" y2="272.2" stroke="#000" stroke-width="1.05" marker-end="url(#ab)"/>
<line x1="267.3" y1="288.4" x2="247.0" y2="271.9" stroke="#000" stroke-width="1.05" marker-end="url(#ab)"/>
<text transform="translate(419.5,257.8) scale(0.935,1)" font-size="9.5" text-anchor="middle" fill="#000" font-family="Liberation Serif, serif" font-weight="bold">Cut Out</text>
<text transform="translate(428.6,294.6) scale(0.935,1)" font-size="9.5" text-anchor="middle" fill="#000" font-family="Liberation Serif, serif" font-weight="bold">Cut Into</text>
<line x1="435.3" y1="258.1" x2="457.5" y2="272.0" stroke="#000" stroke-width="1.05" marker-end="url(#ab)"/>
<line x1="412.3" y1="288.4" x2="390.6" y2="271.9" stroke="#000" stroke-width="1.05" marker-end="url(#ab)"/>
</svg>
</body></html>
